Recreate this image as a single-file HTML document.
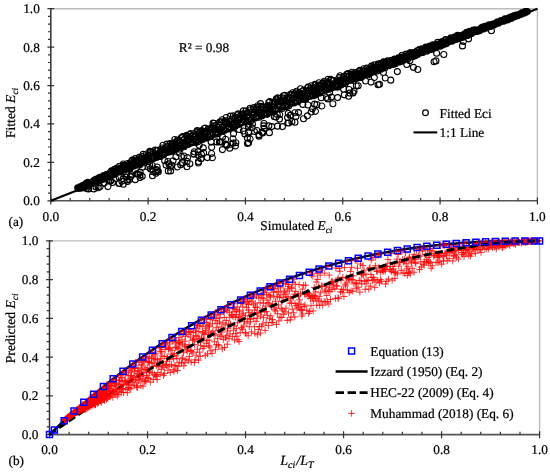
<!DOCTYPE html>
<html><head><meta charset="utf-8"><title>Figure</title>
<style>html,body{margin:0;padding:0;background:#fff;}svg{display:block;text-rendering:geometricPrecision;}</style>
</head><body>
<svg width="550" height="473" viewBox="0 0 550 473">
<rect width="550" height="473" fill="#fff"/>
<g font-family="'Liberation Serif','Times New Roman',serif" font-size="13.3" fill="#000" stroke="#000" stroke-width="0.22">
<path d="M50.8 8.7H537.4V200.8" fill="none" stroke="#bcbcbc" stroke-width="1.4"/>
<path d="M50.8 200.8H537.4" stroke="#555" stroke-width="1.6"/>
<path d="M50.8 8.1V201.4" stroke="#333" stroke-width="1.5"/>
<path d="M50.8 197.5V204.4M47.4 200.8H54.2M70.26 198V200.8M48 193.12H50.8M89.73 198V200.8M48 185.43H50.8M109.19 198V200.8M48 177.75H50.8M128.66 198V200.8M48 170.06H50.8M148.12 197.5V204.4M47.4 162.38H54.2M167.58 198V200.8M48 154.7H50.8M187.05 198V200.8M48 147.01H50.8M206.51 198V200.8M48 139.33H50.8M225.98 198V200.8M48 131.64H50.8M245.44 197.5V204.4M47.4 123.96H54.2M264.9 198V200.8M48 116.28H50.8M284.37 198V200.8M48 108.59H50.8M303.83 198V200.8M48 100.91H50.8M323.3 198V200.8M48 93.22H50.8M342.76 197.5V204.4M47.4 85.54H54.2M362.22 198V200.8M48 77.86H50.8M381.69 198V200.8M48 70.17H50.8M401.15 198V200.8M48 62.49H50.8M420.62 198V200.8M48 54.8H50.8M440.08 197.5V204.4M47.4 47.12H54.2M459.54 198V200.8M48 39.44H50.8M479.01 198V200.8M48 31.75H50.8M498.47 198V200.8M48 24.07H50.8M517.94 198V200.8M48 16.38H50.8M537.4 197.5V204.4M47.4 8.7H54.2" stroke="#333" stroke-width="1.2"/>
<text x="39.8" y="205.2" text-anchor="end">0.0</text>
<text x="50.8" y="220.6" text-anchor="middle">0.0</text>
<text x="39.8" y="166.78" text-anchor="end">0.2</text>
<text x="148.12" y="220.6" text-anchor="middle">0.2</text>
<text x="39.8" y="128.36" text-anchor="end">0.4</text>
<text x="245.44" y="220.6" text-anchor="middle">0.4</text>
<text x="39.8" y="89.94" text-anchor="end">0.6</text>
<text x="342.76" y="220.6" text-anchor="middle">0.6</text>
<text x="39.8" y="51.52" text-anchor="end">0.8</text>
<text x="440.08" y="220.6" text-anchor="middle">0.8</text>
<text x="39.8" y="13.1" text-anchor="end">1.0</text>
<text x="537.4" y="220.6" text-anchor="middle">1.0</text>
<path d="M503.23 18.77a3 3 0 1 0 6 0a3 3 0 1 0-6 0M390.71 63.71a3 3 0 1 0 6 0a3 3 0 1 0-6 0M165.66 146.28a3 3 0 1 0 6 0a3 3 0 1 0-6 0M334.44 87.16a3 3 0 1 0 6 0a3 3 0 1 0-6 0M109.39 173.89a3 3 0 1 0 6 0a3 3 0 1 0-6 0M446.97 39.19a3 3 0 1 0 6 0a3 3 0 1 0-6 0M221.92 130.35a3 3 0 1 0 6 0a3 3 0 1 0-6 0M306.31 92.84a3 3 0 1 0 6 0a3 3 0 1 0-6 0M81.26 185.65a3 3 0 1 0 6 0a3 3 0 1 0-6 0M418.84 48.83a3 3 0 1 0 6 0a3 3 0 1 0-6 0M193.79 139.87a3 3 0 1 0 6 0a3 3 0 1 0-6 0M362.58 70.44a3 3 0 1 0 6 0a3 3 0 1 0-6 0M137.52 164.37a3 3 0 1 0 6 0a3 3 0 1 0-6 0M475.1 30.17a3 3 0 1 0 6 0a3 3 0 1 0-6 0M250.05 109.74a3 3 0 1 0 6 0a3 3 0 1 0-6 0M292.25 102.12a3 3 0 1 0 6 0a3 3 0 1 0-6 0M517.3 13.92a3 3 0 1 0 6 0a3 3 0 1 0-6 0M404.77 55.22a3 3 0 1 0 6 0a3 3 0 1 0-6 0M179.72 136.6a3 3 0 1 0 6 0a3 3 0 1 0-6 0M348.51 78.89a3 3 0 1 0 6 0a3 3 0 1 0-6 0M123.46 164.02a3 3 0 1 0 6 0a3 3 0 1 0-6 0M461.04 36.99a3 3 0 1 0 6 0a3 3 0 1 0-6 0M235.98 120.32a3 3 0 1 0 6 0a3 3 0 1 0-6 0M320.38 82.9a3 3 0 1 0 6 0a3 3 0 1 0-6 0M95.33 180.94a3 3 0 1 0 6 0a3 3 0 1 0-6 0M432.9 46.02a3 3 0 1 0 6 0a3 3 0 1 0-6 0M207.85 129.94a3 3 0 1 0 6 0a3 3 0 1 0-6 0M376.64 63.54a3 3 0 1 0 6 0a3 3 0 1 0-6 0M151.59 157.19a3 3 0 1 0 6 0a3 3 0 1 0-6 0M489.17 24.27a3 3 0 1 0 6 0a3 3 0 1 0-6 0M264.12 114.35a3 3 0 1 0 6 0a3 3 0 1 0-6 0M285.21 102.34a3 3 0 1 0 6 0a3 3 0 1 0-6 0M510.27 16.15a3 3 0 1 0 6 0a3 3 0 1 0-6 0M397.74 61.58a3 3 0 1 0 6 0a3 3 0 1 0-6 0M172.69 146.21a3 3 0 1 0 6 0a3 3 0 1 0-6 0M341.48 78.58a3 3 0 1 0 6 0a3 3 0 1 0-6 0M116.42 166.22a3 3 0 1 0 6 0a3 3 0 1 0-6 0M454 38.67a3 3 0 1 0 6 0a3 3 0 1 0-6 0M228.95 119.14a3 3 0 1 0 6 0a3 3 0 1 0-6 0M313.35 94.62a3 3 0 1 0 6 0a3 3 0 1 0-6 0M88.29 182.95a3 3 0 1 0 6 0a3 3 0 1 0-6 0M425.87 47.01a3 3 0 1 0 6 0a3 3 0 1 0-6 0M200.82 137.61a3 3 0 1 0 6 0a3 3 0 1 0-6 0M369.61 69.23a3 3 0 1 0 6 0a3 3 0 1 0-6 0M144.56 156.04a3 3 0 1 0 6 0a3 3 0 1 0-6 0M482.14 26.18a3 3 0 1 0 6 0a3 3 0 1 0-6 0M257.08 113.67a3 3 0 1 0 6 0a3 3 0 1 0-6 0M299.28 91.22a3 3 0 1 0 6 0a3 3 0 1 0-6 0M524.33 11.6a3 3 0 1 0 6 0a3 3 0 1 0-6 0M411.81 54.33a3 3 0 1 0 6 0a3 3 0 1 0-6 0M186.75 134.48a3 3 0 1 0 6 0a3 3 0 1 0-6 0M355.54 77.31a3 3 0 1 0 6 0a3 3 0 1 0-6 0M130.49 163.15a3 3 0 1 0 6 0a3 3 0 1 0-6 0M468.07 32.11a3 3 0 1 0 6 0a3 3 0 1 0-6 0M243.02 110.98a3 3 0 1 0 6 0a3 3 0 1 0-6 0M327.41 87.23a3 3 0 1 0 6 0a3 3 0 1 0-6 0M102.36 175.7a3 3 0 1 0 6 0a3 3 0 1 0-6 0M439.94 44.97a3 3 0 1 0 6 0a3 3 0 1 0-6 0M214.89 129.47a3 3 0 1 0 6 0a3 3 0 1 0-6 0M383.67 62.16a3 3 0 1 0 6 0a3 3 0 1 0-6 0M158.62 154.74a3 3 0 1 0 6 0a3 3 0 1 0-6 0M496.2 22.26a3 3 0 1 0 6 0a3 3 0 1 0-6 0M271.15 103.94a3 3 0 1 0 6 0a3 3 0 1 0-6 0M281.7 95.36a3 3 0 1 0 6 0a3 3 0 1 0-6 0M506.75 18.32a3 3 0 1 0 6 0a3 3 0 1 0-6 0M394.22 58.98a3 3 0 1 0 6 0a3 3 0 1 0-6 0M169.17 151.25a3 3 0 1 0 6 0a3 3 0 1 0-6 0M337.96 81.4a3 3 0 1 0 6 0a3 3 0 1 0-6 0M112.91 169a3 3 0 1 0 6 0a3 3 0 1 0-6 0M450.49 40.25a3 3 0 1 0 6 0a3 3 0 1 0-6 0M225.43 123.7a3 3 0 1 0 6 0a3 3 0 1 0-6 0M309.83 88.68a3 3 0 1 0 6 0a3 3 0 1 0-6 0M84.78 182.41a3 3 0 1 0 6 0a3 3 0 1 0-6 0M422.36 50.3a3 3 0 1 0 6 0a3 3 0 1 0-6 0M197.3 131.35a3 3 0 1 0 6 0a3 3 0 1 0-6 0M366.09 73.87a3 3 0 1 0 6 0a3 3 0 1 0-6 0M141.04 159.52a3 3 0 1 0 6 0a3 3 0 1 0-6 0M478.62 27.67a3 3 0 1 0 6 0a3 3 0 1 0-6 0M253.57 116.71a3 3 0 1 0 6 0a3 3 0 1 0-6 0M295.76 95.66a3 3 0 1 0 6 0a3 3 0 1 0-6 0M520.82 12.83a3 3 0 1 0 6 0a3 3 0 1 0-6 0M408.29 52.95a3 3 0 1 0 6 0a3 3 0 1 0-6 0M183.24 144.53a3 3 0 1 0 6 0a3 3 0 1 0-6 0M352.03 73.81a3 3 0 1 0 6 0a3 3 0 1 0-6 0M126.97 169a3 3 0 1 0 6 0a3 3 0 1 0-6 0M464.55 34.6a3 3 0 1 0 6 0a3 3 0 1 0-6 0M239.5 114.06a3 3 0 1 0 6 0a3 3 0 1 0-6 0M323.9 89.62a3 3 0 1 0 6 0a3 3 0 1 0-6 0M98.84 178.47a3 3 0 1 0 6 0a3 3 0 1 0-6 0M436.42 44.03a3 3 0 1 0 6 0a3 3 0 1 0-6 0M211.37 123.18a3 3 0 1 0 6 0a3 3 0 1 0-6 0M380.16 66.88a3 3 0 1 0 6 0a3 3 0 1 0-6 0M155.11 150.28a3 3 0 1 0 6 0a3 3 0 1 0-6 0M492.68 24.01a3 3 0 1 0 6 0a3 3 0 1 0-6 0M267.63 108.89a3 3 0 1 0 6 0a3 3 0 1 0-6 0M288.73 94.67a3 3 0 1 0 6 0a3 3 0 1 0-6 0M513.78 15.96a3 3 0 1 0 6 0a3 3 0 1 0-6 0M401.26 57.48a3 3 0 1 0 6 0a3 3 0 1 0-6 0M176.2 141.92a3 3 0 1 0 6 0a3 3 0 1 0-6 0M344.99 73.66a3 3 0 1 0 6 0a3 3 0 1 0-6 0M119.94 169.73a3 3 0 1 0 6 0a3 3 0 1 0-6 0M457.52 35.47a3 3 0 1 0 6 0a3 3 0 1 0-6 0M232.47 126.44a3 3 0 1 0 6 0a3 3 0 1 0-6 0M316.86 89.33a3 3 0 1 0 6 0a3 3 0 1 0-6 0M91.81 179.69a3 3 0 1 0 6 0a3 3 0 1 0-6 0M429.39 48.78a3 3 0 1 0 6 0a3 3 0 1 0-6 0M204.34 132.26a3 3 0 1 0 6 0a3 3 0 1 0-6 0M373.13 67.6a3 3 0 1 0 6 0a3 3 0 1 0-6 0M148.07 151.62a3 3 0 1 0 6 0a3 3 0 1 0-6 0M485.65 26.62a3 3 0 1 0 6 0a3 3 0 1 0-6 0M260.6 106.88a3 3 0 1 0 6 0a3 3 0 1 0-6 0M302.8 99.01a3 3 0 1 0 6 0a3 3 0 1 0-6 0M77.74 187.39a3 3 0 1 0 6 0a3 3 0 1 0-6 0M415.32 50.66a3 3 0 1 0 6 0a3 3 0 1 0-6 0M190.27 142.3a3 3 0 1 0 6 0a3 3 0 1 0-6 0M359.06 73.82a3 3 0 1 0 6 0a3 3 0 1 0-6 0M134.01 160.52a3 3 0 1 0 6 0a3 3 0 1 0-6 0M471.59 29.76a3 3 0 1 0 6 0a3 3 0 1 0-6 0M246.53 117.94a3 3 0 1 0 6 0a3 3 0 1 0-6 0M330.93 80.51a3 3 0 1 0 6 0a3 3 0 1 0-6 0M105.88 176.93a3 3 0 1 0 6 0a3 3 0 1 0-6 0M443.45 42.31a3 3 0 1 0 6 0a3 3 0 1 0-6 0M218.4 121.9a3 3 0 1 0 6 0a3 3 0 1 0-6 0M387.19 65.02a3 3 0 1 0 6 0a3 3 0 1 0-6 0M162.14 150.17a3 3 0 1 0 6 0a3 3 0 1 0-6 0M499.72 20.76a3 3 0 1 0 6 0a3 3 0 1 0-6 0M274.66 97.92a3 3 0 1 0 6 0a3 3 0 1 0-6 0M279.94 104.98a3 3 0 1 0 6 0a3 3 0 1 0-6 0M504.99 18.35a3 3 0 1 0 6 0a3 3 0 1 0-6 0M392.47 63.83a3 3 0 1 0 6 0a3 3 0 1 0-6 0M167.41 148.82a3 3 0 1 0 6 0a3 3 0 1 0-6 0M336.2 77.59a3 3 0 1 0 6 0a3 3 0 1 0-6 0M111.15 174.23a3 3 0 1 0 6 0a3 3 0 1 0-6 0M448.73 39.63a3 3 0 1 0 6 0a3 3 0 1 0-6 0M223.68 123.3a3 3 0 1 0 6 0a3 3 0 1 0-6 0M308.07 85.74a3 3 0 1 0 6 0a3 3 0 1 0-6 0M83.02 185.39a3 3 0 1 0 6 0a3 3 0 1 0-6 0M420.6 49.7a3 3 0 1 0 6 0a3 3 0 1 0-6 0M195.54 141.58a3 3 0 1 0 6 0a3 3 0 1 0-6 0M364.33 72.48a3 3 0 1 0 6 0a3 3 0 1 0-6 0M139.28 156.67a3 3 0 1 0 6 0a3 3 0 1 0-6 0M476.86 30.62a3 3 0 1 0 6 0a3 3 0 1 0-6 0M251.81 113.27a3 3 0 1 0 6 0a3 3 0 1 0-6 0M294.01 94.87a3 3 0 1 0 6 0a3 3 0 1 0-6 0M519.06 12.69a3 3 0 1 0 6 0a3 3 0 1 0-6 0M406.53 56.91a3 3 0 1 0 6 0a3 3 0 1 0-6 0M181.48 139.15a3 3 0 1 0 6 0a3 3 0 1 0-6 0M350.27 80.42a3 3 0 1 0 6 0a3 3 0 1 0-6 0M125.22 166.59a3 3 0 1 0 6 0a3 3 0 1 0-6 0M462.79 33.31a3 3 0 1 0 6 0a3 3 0 1 0-6 0M237.74 122.69a3 3 0 1 0 6 0a3 3 0 1 0-6 0M322.14 86.51a3 3 0 1 0 6 0a3 3 0 1 0-6 0M97.08 178.51a3 3 0 1 0 6 0a3 3 0 1 0-6 0M434.66 42.36a3 3 0 1 0 6 0a3 3 0 1 0-6 0M209.61 132.24a3 3 0 1 0 6 0a3 3 0 1 0-6 0M378.4 64.5a3 3 0 1 0 6 0a3 3 0 1 0-6 0M153.35 157.42a3 3 0 1 0 6 0a3 3 0 1 0-6 0M490.93 24.58a3 3 0 1 0 6 0a3 3 0 1 0-6 0M265.87 102.41a3 3 0 1 0 6 0a3 3 0 1 0-6 0M286.97 102.8a3 3 0 1 0 6 0a3 3 0 1 0-6 0M512.02 15.64a3 3 0 1 0 6 0a3 3 0 1 0-6 0M399.5 57.82a3 3 0 1 0 6 0a3 3 0 1 0-6 0M174.45 139.99a3 3 0 1 0 6 0a3 3 0 1 0-6 0M343.24 81.5a3 3 0 1 0 6 0a3 3 0 1 0-6 0M118.18 167.73a3 3 0 1 0 6 0a3 3 0 1 0-6 0M455.76 38.69a3 3 0 1 0 6 0a3 3 0 1 0-6 0M230.71 123.54a3 3 0 1 0 6 0a3 3 0 1 0-6 0M315.1 85.1a3 3 0 1 0 6 0a3 3 0 1 0-6 0M90.05 183.13a3 3 0 1 0 6 0a3 3 0 1 0-6 0M427.63 48.29a3 3 0 1 0 6 0a3 3 0 1 0-6 0M202.58 131.31a3 3 0 1 0 6 0a3 3 0 1 0-6 0M371.37 64.85a3 3 0 1 0 6 0a3 3 0 1 0-6 0M146.31 158.5a3 3 0 1 0 6 0a3 3 0 1 0-6 0M483.89 26a3 3 0 1 0 6 0a3 3 0 1 0-6 0M258.84 115.95a3 3 0 1 0 6 0a3 3 0 1 0-6 0M301.04 95.51a3 3 0 1 0 6 0a3 3 0 1 0-6 0M75.99 187.23a3 3 0 1 0 6 0a3 3 0 1 0-6 0M413.56 54.87a3 3 0 1 0 6 0a3 3 0 1 0-6 0M188.51 139a3 3 0 1 0 6 0a3 3 0 1 0-6 0M357.3 72.89a3 3 0 1 0 6 0a3 3 0 1 0-6 0M132.25 158.63a3 3 0 1 0 6 0a3 3 0 1 0-6 0M469.83 32.73a3 3 0 1 0 6 0a3 3 0 1 0-6 0M244.78 112.61a3 3 0 1 0 6 0a3 3 0 1 0-6 0M329.17 88.04a3 3 0 1 0 6 0a3 3 0 1 0-6 0M104.12 175.49a3 3 0 1 0 6 0a3 3 0 1 0-6 0M441.7 40.75a3 3 0 1 0 6 0a3 3 0 1 0-6 0M216.64 130.74a3 3 0 1 0 6 0a3 3 0 1 0-6 0M385.43 63.11a3 3 0 1 0 6 0a3 3 0 1 0-6 0M160.38 149.34a3 3 0 1 0 6 0a3 3 0 1 0-6 0M497.96 20.65a3 3 0 1 0 6 0a3 3 0 1 0-6 0M272.91 108.56a3 3 0 1 0 6 0a3 3 0 1 0-6 0M283.46 98.64a3 3 0 1 0 6 0a3 3 0 1 0-6 0M508.51 18.34a3 3 0 1 0 6 0a3 3 0 1 0-6 0M395.98 60.84a3 3 0 1 0 6 0a3 3 0 1 0-6 0M170.93 142.44a3 3 0 1 0 6 0a3 3 0 1 0-6 0M339.72 83.32a3 3 0 1 0 6 0a3 3 0 1 0-6 0M114.67 170.42a3 3 0 1 0 6 0a3 3 0 1 0-6 0M452.25 37.84a3 3 0 1 0 6 0a3 3 0 1 0-6 0M227.19 116.15a3 3 0 1 0 6 0a3 3 0 1 0-6 0M311.59 92.59a3 3 0 1 0 6 0a3 3 0 1 0-6 0M86.54 182.91a3 3 0 1 0 6 0a3 3 0 1 0-6 0M424.11 51.08a3 3 0 1 0 6 0a3 3 0 1 0-6 0M199.06 135.43a3 3 0 1 0 6 0a3 3 0 1 0-6 0M367.85 66.98a3 3 0 1 0 6 0a3 3 0 1 0-6 0M142.8 160.92a3 3 0 1 0 6 0a3 3 0 1 0-6 0M480.38 28.12a3 3 0 1 0 6 0a3 3 0 1 0-6 0M255.32 110a3 3 0 1 0 6 0a3 3 0 1 0-6 0M297.52 88.82a3 3 0 1 0 6 0a3 3 0 1 0-6 0M522.57 12.34a3 3 0 1 0 6 0a3 3 0 1 0-6 0M410.05 52.59a3 3 0 1 0 6 0a3 3 0 1 0-6 0M185 144.53a3 3 0 1 0 6 0a3 3 0 1 0-6 0M353.78 75.75a3 3 0 1 0 6 0a3 3 0 1 0-6 0M128.73 160.9a3 3 0 1 0 6 0a3 3 0 1 0-6 0M466.31 33.82a3 3 0 1 0 6 0a3 3 0 1 0-6 0M241.26 116.56a3 3 0 1 0 6 0a3 3 0 1 0-6 0M325.65 84.35a3 3 0 1 0 6 0a3 3 0 1 0-6 0M100.6 175.43a3 3 0 1 0 6 0a3 3 0 1 0-6 0M438.18 45.14a3 3 0 1 0 6 0a3 3 0 1 0-6 0M213.13 125.41a3 3 0 1 0 6 0a3 3 0 1 0-6 0M381.92 67.67a3 3 0 1 0 6 0a3 3 0 1 0-6 0M156.86 153.73a3 3 0 1 0 6 0a3 3 0 1 0-6 0M494.44 21.8a3 3 0 1 0 6 0a3 3 0 1 0-6 0M269.39 110.54a3 3 0 1 0 6 0a3 3 0 1 0-6 0M290.49 98.38a3 3 0 1 0 6 0a3 3 0 1 0-6 0M515.54 14.59a3 3 0 1 0 6 0a3 3 0 1 0-6 0M403.02 54.14a3 3 0 1 0 6 0a3 3 0 1 0-6 0M177.96 145.87a3 3 0 1 0 6 0a3 3 0 1 0-6 0M346.75 75.57a3 3 0 1 0 6 0a3 3 0 1 0-6 0M121.7 170a3 3 0 1 0 6 0a3 3 0 1 0-6 0M459.28 35.96a3 3 0 1 0 6 0a3 3 0 1 0-6 0M234.23 115.02a3 3 0 1 0 6 0a3 3 0 1 0-6 0M318.62 90.92a3 3 0 1 0 6 0a3 3 0 1 0-6 0M93.57 180.28a3 3 0 1 0 6 0a3 3 0 1 0-6 0M431.15 45.4a3 3 0 1 0 6 0a3 3 0 1 0-6 0M206.09 137.25a3 3 0 1 0 6 0a3 3 0 1 0-6 0M374.88 68.94a3 3 0 1 0 6 0a3 3 0 1 0-6 0M149.83 152.34a3 3 0 1 0 6 0a3 3 0 1 0-6 0M487.41 26.42a3 3 0 1 0 6 0a3 3 0 1 0-6 0M262.36 110.1a3 3 0 1 0 6 0a3 3 0 1 0-6 0M304.55 87.71a3 3 0 1 0 6 0a3 3 0 1 0-6 0M79.5 187.19a3 3 0 1 0 6 0a3 3 0 1 0-6 0M417.08 51.54a3 3 0 1 0 6 0a3 3 0 1 0-6 0M192.03 136.87a3 3 0 1 0 6 0a3 3 0 1 0-6 0M360.82 68.71a3 3 0 1 0 6 0a3 3 0 1 0-6 0M135.77 163.64a3 3 0 1 0 6 0a3 3 0 1 0-6 0M473.34 30.27a3 3 0 1 0 6 0a3 3 0 1 0-6 0M248.29 120.74a3 3 0 1 0 6 0a3 3 0 1 0-6 0M332.69 84.01a3 3 0 1 0 6 0a3 3 0 1 0-6 0M107.63 172.21a3 3 0 1 0 6 0a3 3 0 1 0-6 0M445.21 42.36a3 3 0 1 0 6 0a3 3 0 1 0-6 0M220.16 126.32a3 3 0 1 0 6 0a3 3 0 1 0-6 0M388.95 61.78a3 3 0 1 0 6 0a3 3 0 1 0-6 0M163.9 144.11a3 3 0 1 0 6 0a3 3 0 1 0-6 0M501.48 20.86a3 3 0 1 0 6 0a3 3 0 1 0-6 0M276.42 100.92a3 3 0 1 0 6 0a3 3 0 1 0-6 0M279.06 108.56a3 3 0 1 0 6 0a3 3 0 1 0-6 0M504.11 19.65a3 3 0 1 0 6 0a3 3 0 1 0-6 0M391.59 59.12a3 3 0 1 0 6 0a3 3 0 1 0-6 0M166.53 151.98a3 3 0 1 0 6 0a3 3 0 1 0-6 0M335.32 81.83a3 3 0 1 0 6 0a3 3 0 1 0-6 0M110.27 171.53a3 3 0 1 0 6 0a3 3 0 1 0-6 0M447.85 37.82a3 3 0 1 0 6 0a3 3 0 1 0-6 0M222.8 127.39a3 3 0 1 0 6 0a3 3 0 1 0-6 0M307.19 88.68a3 3 0 1 0 6 0a3 3 0 1 0-6 0M82.14 186.23a3 3 0 1 0 6 0a3 3 0 1 0-6 0M419.72 51.02a3 3 0 1 0 6 0a3 3 0 1 0-6 0M194.67 131.88a3 3 0 1 0 6 0a3 3 0 1 0-6 0M363.46 74.02a3 3 0 1 0 6 0a3 3 0 1 0-6 0M138.4 159.94a3 3 0 1 0 6 0a3 3 0 1 0-6 0M475.98 29.78a3 3 0 1 0 6 0a3 3 0 1 0-6 0M250.93 107.61a3 3 0 1 0 6 0a3 3 0 1 0-6 0M293.13 100.51a3 3 0 1 0 6 0a3 3 0 1 0-6 0M518.18 13.35a3 3 0 1 0 6 0a3 3 0 1 0-6 0M405.65 58.45a3 3 0 1 0 6 0a3 3 0 1 0-6 0M180.6 143.54a3 3 0 1 0 6 0a3 3 0 1 0-6 0M349.39 73.79a3 3 0 1 0 6 0a3 3 0 1 0-6 0M124.34 168.85a3 3 0 1 0 6 0a3 3 0 1 0-6 0M461.92 34.91a3 3 0 1 0 6 0a3 3 0 1 0-6 0M236.86 117.49a3 3 0 1 0 6 0a3 3 0 1 0-6 0M321.26 81.2a3 3 0 1 0 6 0a3 3 0 1 0-6 0M96.21 180.03a3 3 0 1 0 6 0a3 3 0 1 0-6 0M433.78 44.39a3 3 0 1 0 6 0a3 3 0 1 0-6 0M208.73 135.95a3 3 0 1 0 6 0a3 3 0 1 0-6 0M377.52 66.99a3 3 0 1 0 6 0a3 3 0 1 0-6 0M152.47 150.22a3 3 0 1 0 6 0a3 3 0 1 0-6 0M490.05 24.81a3 3 0 1 0 6 0a3 3 0 1 0-6 0M264.99 107.78a3 3 0 1 0 6 0a3 3 0 1 0-6 0M286.09 98.19a3 3 0 1 0 6 0a3 3 0 1 0-6 0M511.15 15.5a3 3 0 1 0 6 0a3 3 0 1 0-6 0M398.62 59.49a3 3 0 1 0 6 0a3 3 0 1 0-6 0M173.57 141.67a3 3 0 1 0 6 0a3 3 0 1 0-6 0M342.36 83.3a3 3 0 1 0 6 0a3 3 0 1 0-6 0M117.3 170.08a3 3 0 1 0 6 0a3 3 0 1 0-6 0M454.88 35.71a3 3 0 1 0 6 0a3 3 0 1 0-6 0M229.83 126.12a3 3 0 1 0 6 0a3 3 0 1 0-6 0M314.22 89.02a3 3 0 1 0 6 0a3 3 0 1 0-6 0M89.17 182.23a3 3 0 1 0 6 0a3 3 0 1 0-6 0M426.75 45.95a3 3 0 1 0 6 0a3 3 0 1 0-6 0M201.7 136.22a3 3 0 1 0 6 0a3 3 0 1 0-6 0M370.49 67.18a3 3 0 1 0 6 0a3 3 0 1 0-6 0M145.44 161.52a3 3 0 1 0 6 0a3 3 0 1 0-6 0M483.01 27.25a3 3 0 1 0 6 0a3 3 0 1 0-6 0M257.96 106.42a3 3 0 1 0 6 0a3 3 0 1 0-6 0M300.16 99.21a3 3 0 1 0 6 0a3 3 0 1 0-6 0M75.11 187.93a3 3 0 1 0 6 0a3 3 0 1 0-6 0M412.69 52.34a3 3 0 1 0 6 0a3 3 0 1 0-6 0M187.63 133.55a3 3 0 1 0 6 0a3 3 0 1 0-6 0M356.42 75.58a3 3 0 1 0 6 0a3 3 0 1 0-6 0M131.37 160.99a3 3 0 1 0 6 0a3 3 0 1 0-6 0M468.95 33.59a3 3 0 1 0 6 0a3 3 0 1 0-6 0M243.9 117.28a3 3 0 1 0 6 0a3 3 0 1 0-6 0M328.29 79.97a3 3 0 1 0 6 0a3 3 0 1 0-6 0M103.24 177.66a3 3 0 1 0 6 0a3 3 0 1 0-6 0M440.82 42.76a3 3 0 1 0 6 0a3 3 0 1 0-6 0M215.76 125.22a3 3 0 1 0 6 0a3 3 0 1 0-6 0M384.55 60.73a3 3 0 1 0 6 0a3 3 0 1 0-6 0M159.5 153.05a3 3 0 1 0 6 0a3 3 0 1 0-6 0M497.08 21.31a3 3 0 1 0 6 0a3 3 0 1 0-6 0M272.03 110.22a3 3 0 1 0 6 0a3 3 0 1 0-6 0M282.58 102.52a3 3 0 1 0 6 0a3 3 0 1 0-6 0M507.63 16.97a3 3 0 1 0 6 0a3 3 0 1 0-6 0M395.1 61.83a3 3 0 1 0 6 0a3 3 0 1 0-6 0M170.05 146.32a3 3 0 1 0 6 0a3 3 0 1 0-6 0M338.84 79.86a3 3 0 1 0 6 0a3 3 0 1 0-6 0M113.79 168.03a3 3 0 1 0 6 0a3 3 0 1 0-6 0M451.37 39.81a3 3 0 1 0 6 0a3 3 0 1 0-6 0M226.31 120.99a3 3 0 1 0 6 0a3 3 0 1 0-6 0M310.71 95.75a3 3 0 1 0 6 0a3 3 0 1 0-6 0M85.66 183.91a3 3 0 1 0 6 0a3 3 0 1 0-6 0M423.23 47.63a3 3 0 1 0 6 0a3 3 0 1 0-6 0M198.18 139.72a3 3 0 1 0 6 0a3 3 0 1 0-6 0M366.97 70.88a3 3 0 1 0 6 0a3 3 0 1 0-6 0M141.92 157.81a3 3 0 1 0 6 0a3 3 0 1 0-6 0M479.5 27.11a3 3 0 1 0 6 0a3 3 0 1 0-6 0M254.45 115.47a3 3 0 1 0 6 0a3 3 0 1 0-6 0M296.64 93.4a3 3 0 1 0 6 0a3 3 0 1 0-6 0M521.7 12.93a3 3 0 1 0 6 0a3 3 0 1 0-6 0M409.17 55.07a3 3 0 1 0 6 0a3 3 0 1 0-6 0M184.12 136.32a3 3 0 1 0 6 0a3 3 0 1 0-6 0M352.91 78.57a3 3 0 1 0 6 0a3 3 0 1 0-6 0M127.85 164.89a3 3 0 1 0 6 0a3 3 0 1 0-6 0M465.43 32.7a3 3 0 1 0 6 0a3 3 0 1 0-6 0M240.38 110.85a3 3 0 1 0 6 0a3 3 0 1 0-6 0M324.77 87.47a3 3 0 1 0 6 0a3 3 0 1 0-6 0M99.72 176.74a3 3 0 1 0 6 0a3 3 0 1 0-6 0M437.3 46.29a3 3 0 1 0 6 0a3 3 0 1 0-6 0M212.25 129.88a3 3 0 1 0 6 0a3 3 0 1 0-6 0M381.04 62.75a3 3 0 1 0 6 0a3 3 0 1 0-6 0M155.98 155.92a3 3 0 1 0 6 0a3 3 0 1 0-6 0M493.56 22.66a3 3 0 1 0 6 0a3 3 0 1 0-6 0M268.51 105.6a3 3 0 1 0 6 0a3 3 0 1 0-6 0M289.61 92.81a3 3 0 1 0 6 0a3 3 0 1 0-6 0M514.66 15.71a3 3 0 1 0 6 0a3 3 0 1 0-6 0M402.14 55.95a3 3 0 1 0 6 0a3 3 0 1 0-6 0M177.08 149.13a3 3 0 1 0 6 0a3 3 0 1 0-6 0M345.87 78.98a3 3 0 1 0 6 0a3 3 0 1 0-6 0M120.82 165.19a3 3 0 1 0 6 0a3 3 0 1 0-6 0M458.4 37.59a3 3 0 1 0 6 0a3 3 0 1 0-6 0M233.35 120.84a3 3 0 1 0 6 0a3 3 0 1 0-6 0M317.74 86.27a3 3 0 1 0 6 0a3 3 0 1 0-6 0M92.69 179.22a3 3 0 1 0 6 0a3 3 0 1 0-6 0M430.27 48.15a3 3 0 1 0 6 0a3 3 0 1 0-6 0M205.22 128.79a3 3 0 1 0 6 0a3 3 0 1 0-6 0M374 71.1a3 3 0 1 0 6 0a3 3 0 1 0-6 0M148.95 156.83a3 3 0 1 0 6 0a3 3 0 1 0-6 0M486.53 25.24a3 3 0 1 0 6 0a3 3 0 1 0-6 0M261.48 114.12a3 3 0 1 0 6 0a3 3 0 1 0-6 0M303.68 93.41a3 3 0 1 0 6 0a3 3 0 1 0-6 0M78.62 186.43a3 3 0 1 0 6 0a3 3 0 1 0-6 0M416.2 49.53a3 3 0 1 0 6 0a3 3 0 1 0-6 0M191.15 139.73a3 3 0 1 0 6 0a3 3 0 1 0-6 0M359.94 70.69a3 3 0 1 0 6 0a3 3 0 1 0-6 0M134.89 164.95a3 3 0 1 0 6 0a3 3 0 1 0-6 0M472.46 31.5a3 3 0 1 0 6 0a3 3 0 1 0-6 0M247.41 109.78a3 3 0 1 0 6 0a3 3 0 1 0-6 0M331.81 86.39a3 3 0 1 0 6 0a3 3 0 1 0-6 0M106.75 174.18a3 3 0 1 0 6 0a3 3 0 1 0-6 0M444.33 41.38a3 3 0 1 0 6 0a3 3 0 1 0-6 0M219.28 119.73a3 3 0 1 0 6 0a3 3 0 1 0-6 0M388.07 64.23a3 3 0 1 0 6 0a3 3 0 1 0-6 0M163.02 147.45a3 3 0 1 0 6 0a3 3 0 1 0-6 0M500.6 21.22a3 3 0 1 0 6 0a3 3 0 1 0-6 0M275.54 105.43a3 3 0 1 0 6 0a3 3 0 1 0-6 0M280.82 98.08a3 3 0 1 0 6 0a3 3 0 1 0-6 0M505.87 18.7a3 3 0 1 0 6 0a3 3 0 1 0-6 0M393.34 60.94a3 3 0 1 0 6 0a3 3 0 1 0-6 0M168.29 145.78a3 3 0 1 0 6 0a3 3 0 1 0-6 0M337.08 75.77a3 3 0 1 0 6 0a3 3 0 1 0-6 0M112.03 173.1a3 3 0 1 0 6 0a3 3 0 1 0-6 0M449.61 38.28a3 3 0 1 0 6 0a3 3 0 1 0-6 0M224.56 129.32a3 3 0 1 0 6 0a3 3 0 1 0-6 0M308.95 91.99a3 3 0 1 0 6 0a3 3 0 1 0-6 0M83.9 183.5a3 3 0 1 0 6 0a3 3 0 1 0-6 0M421.48 51.44a3 3 0 1 0 6 0a3 3 0 1 0-6 0M196.42 135.14a3 3 0 1 0 6 0a3 3 0 1 0-6 0M365.21 69.48a3 3 0 1 0 6 0a3 3 0 1 0-6 0M140.16 154.35a3 3 0 1 0 6 0a3 3 0 1 0-6 0M477.74 29.66a3 3 0 1 0 6 0a3 3 0 1 0-6 0M252.69 109.41a3 3 0 1 0 6 0a3 3 0 1 0-6 0M294.88 101.66a3 3 0 1 0 6 0a3 3 0 1 0-6 0M519.94 13.41a3 3 0 1 0 6 0a3 3 0 1 0-6 0M407.41 52.84a3 3 0 1 0 6 0a3 3 0 1 0-6 0M182.36 144.85a3 3 0 1 0 6 0a3 3 0 1 0-6 0M351.15 75.77a3 3 0 1 0 6 0a3 3 0 1 0-6 0M126.1 165.04a3 3 0 1 0 6 0a3 3 0 1 0-6 0M463.67 32.35a3 3 0 1 0 6 0a3 3 0 1 0-6 0M238.62 121.61a3 3 0 1 0 6 0a3 3 0 1 0-6 0M323.02 83.84a3 3 0 1 0 6 0a3 3 0 1 0-6 0M97.96 180.34a3 3 0 1 0 6 0a3 3 0 1 0-6 0M435.54 45.71a3 3 0 1 0 6 0a3 3 0 1 0-6 0M210.49 125.8a3 3 0 1 0 6 0a3 3 0 1 0-6 0M379.28 68.47a3 3 0 1 0 6 0a3 3 0 1 0-6 0M154.23 153.91a3 3 0 1 0 6 0a3 3 0 1 0-6 0M491.81 23.55a3 3 0 1 0 6 0a3 3 0 1 0-6 0M266.75 101.5a3 3 0 1 0 6 0a3 3 0 1 0-6 0M287.85 101.8a3 3 0 1 0 6 0a3 3 0 1 0-6 0M512.9 14.95a3 3 0 1 0 6 0a3 3 0 1 0-6 0M400.38 60.55a3 3 0 1 0 6 0a3 3 0 1 0-6 0M175.33 145.85a3 3 0 1 0 6 0a3 3 0 1 0-6 0M344.11 74.79a3 3 0 1 0 6 0a3 3 0 1 0-6 0M119.06 171.02a3 3 0 1 0 6 0a3 3 0 1 0-6 0M456.64 36.78a3 3 0 1 0 6 0a3 3 0 1 0-6 0M231.59 119.48a3 3 0 1 0 6 0a3 3 0 1 0-6 0M315.98 82.73a3 3 0 1 0 6 0a3 3 0 1 0-6 0M90.93 182.08a3 3 0 1 0 6 0a3 3 0 1 0-6 0M428.51 46.27a3 3 0 1 0 6 0a3 3 0 1 0-6 0M203.46 137.91a3 3 0 1 0 6 0a3 3 0 1 0-6 0M372.25 69.03a3 3 0 1 0 6 0a3 3 0 1 0-6 0M147.19 152.77a3 3 0 1 0 6 0a3 3 0 1 0-6 0M484.77 27.3a3 3 0 1 0 6 0a3 3 0 1 0-6 0M259.72 110.05a3 3 0 1 0 6 0a3 3 0 1 0-6 0M301.92 92.91a3 3 0 1 0 6 0a3 3 0 1 0-6 0M76.86 186.75a3 3 0 1 0 6 0a3 3 0 1 0-6 0M414.44 54.48a3 3 0 1 0 6 0a3 3 0 1 0-6 0M189.39 136.16a3 3 0 1 0 6 0a3 3 0 1 0-6 0M358.18 77.53a3 3 0 1 0 6 0a3 3 0 1 0-6 0M133.13 163.42a3 3 0 1 0 6 0a3 3 0 1 0-6 0M470.71 30.69a3 3 0 1 0 6 0a3 3 0 1 0-6 0M245.65 120.18a3 3 0 1 0 6 0a3 3 0 1 0-6 0M330.05 83.76a3 3 0 1 0 6 0a3 3 0 1 0-6 0M105 174.24a3 3 0 1 0 6 0a3 3 0 1 0-6 0M442.58 39.64a3 3 0 1 0 6 0a3 3 0 1 0-6 0M217.52 129.7a3 3 0 1 0 6 0a3 3 0 1 0-6 0M386.31 62a3 3 0 1 0 6 0a3 3 0 1 0-6 0M161.26 154.31a3 3 0 1 0 6 0a3 3 0 1 0-6 0M498.84 21.53a3 3 0 1 0 6 0a3 3 0 1 0-6 0M273.79 99.86a3 3 0 1 0 6 0a3 3 0 1 0-6 0M284.34 104.63a3 3 0 1 0 6 0a3 3 0 1 0-6 0M509.39 17.37a3 3 0 1 0 6 0a3 3 0 1 0-6 0M396.86 58.17a3 3 0 1 0 6 0a3 3 0 1 0-6 0M171.81 139.56a3 3 0 1 0 6 0a3 3 0 1 0-6 0M340.6 81.45a3 3 0 1 0 6 0a3 3 0 1 0-6 0M115.55 167.96a3 3 0 1 0 6 0a3 3 0 1 0-6 0M453.12 39.4a3 3 0 1 0 6 0a3 3 0 1 0-6 0M228.07 123.68a3 3 0 1 0 6 0a3 3 0 1 0-6 0M312.47 85.05a3 3 0 1 0 6 0a3 3 0 1 0-6 0M87.41 183.8a3 3 0 1 0 6 0a3 3 0 1 0-6 0M424.99 48.35a3 3 0 1 0 6 0a3 3 0 1 0-6 0M199.94 132.58a3 3 0 1 0 6 0a3 3 0 1 0-6 0M368.73 65.92a3 3 0 1 0 6 0a3 3 0 1 0-6 0M143.68 159.9a3 3 0 1 0 6 0a3 3 0 1 0-6 0M481.26 26.96a3 3 0 1 0 6 0a3 3 0 1 0-6 0M256.2 117.21a3 3 0 1 0 6 0a3 3 0 1 0-6 0M298.4 96.7a3 3 0 1 0 6 0a3 3 0 1 0-6 0M523.45 11.45a3 3 0 1 0 6 0a3 3 0 1 0-6 0M410.93 56.33a3 3 0 1 0 6 0a3 3 0 1 0-6 0M185.87 140.41a3 3 0 1 0 6 0a3 3 0 1 0-6 0M354.66 73.64a3 3 0 1 0 6 0a3 3 0 1 0-6 0M129.61 159.92a3 3 0 1 0 6 0a3 3 0 1 0-6 0M467.19 33.3a3 3 0 1 0 6 0a3 3 0 1 0-6 0M242.14 113.54a3 3 0 1 0 6 0a3 3 0 1 0-6 0M326.53 89.22a3 3 0 1 0 6 0a3 3 0 1 0-6 0M101.48 177.02a3 3 0 1 0 6 0a3 3 0 1 0-6 0M439.06 41.62a3 3 0 1 0 6 0a3 3 0 1 0-6 0M214.01 132.3a3 3 0 1 0 6 0a3 3 0 1 0-6 0M382.8 64.91a3 3 0 1 0 6 0a3 3 0 1 0-6 0M157.74 149.63a3 3 0 1 0 6 0a3 3 0 1 0-6 0M495.32 23.13a3 3 0 1 0 6 0a3 3 0 1 0-6 0M270.27 108.25a3 3 0 1 0 6 0a3 3 0 1 0-6 0M291.37 94.17a3 3 0 1 0 6 0a3 3 0 1 0-6 0M516.42 14.74a3 3 0 1 0 6 0a3 3 0 1 0-6 0M403.89 57.38a3 3 0 1 0 6 0a3 3 0 1 0-6 0M178.84 137.83a3 3 0 1 0 6 0a3 3 0 1 0-6 0M347.63 80.02a3 3 0 1 0 6 0a3 3 0 1 0-6 0M122.58 166.7a3 3 0 1 0 6 0a3 3 0 1 0-6 0M460.16 35.33a3 3 0 1 0 6 0a3 3 0 1 0-6 0M235.1 113.87a3 3 0 1 0 6 0a3 3 0 1 0-6 0M319.5 90.69a3 3 0 1 0 6 0a3 3 0 1 0-6 0M94.45 179.09a3 3 0 1 0 6 0a3 3 0 1 0-6 0M432.03 47.92a3 3 0 1 0 6 0a3 3 0 1 0-6 0M206.97 133.21a3 3 0 1 0 6 0a3 3 0 1 0-6 0M375.76 65.11a3 3 0 1 0 6 0a3 3 0 1 0-6 0M150.71 158.43a3 3 0 1 0 6 0a3 3 0 1 0-6 0M488.29 25.05a3 3 0 1 0 6 0a3 3 0 1 0-6 0M263.24 107.23a3 3 0 1 0 6 0a3 3 0 1 0-6 0M305.43 86.77a3 3 0 1 0 6 0a3 3 0 1 0-6 0M80.38 186.42a3 3 0 1 0 6 0a3 3 0 1 0-6 0M417.96 50.65a3 3 0 1 0 6 0a3 3 0 1 0-6 0M192.91 142.6a3 3 0 1 0 6 0a3 3 0 1 0-6 0M361.7 73.44a3 3 0 1 0 6 0a3 3 0 1 0-6 0M136.64 157.48a3 3 0 1 0 6 0a3 3 0 1 0-6 0M474.22 31.47a3 3 0 1 0 6 0a3 3 0 1 0-6 0M249.17 114.37a3 3 0 1 0 6 0a3 3 0 1 0-6 0M333.57 81.21a3 3 0 1 0 6 0a3 3 0 1 0-6 0M108.51 170.89a3 3 0 1 0 6 0a3 3 0 1 0-6 0M446.09 41.77a3 3 0 1 0 6 0a3 3 0 1 0-6 0M221.04 121.59a3 3 0 1 0 6 0a3 3 0 1 0-6 0M389.83 64.43a3 3 0 1 0 6 0a3 3 0 1 0-6 0M164.78 149.54a3 3 0 1 0 6 0a3 3 0 1 0-6 0M502.35 19.19a3 3 0 1 0 6 0a3 3 0 1 0-6 0M277.3 107.28a3 3 0 1 0 6 0a3 3 0 1 0-6 0M278.62 102.54a3 3 0 1 0 6 0a3 3 0 1 0-6 0M503.67 19.09a3 3 0 1 0 6 0a3 3 0 1 0-6 0M391.15 59.24a3 3 0 1 0 6 0a3 3 0 1 0-6 0M166.09 150.68a3 3 0 1 0 6 0a3 3 0 1 0-6 0M334.88 80.06a3 3 0 1 0 6 0a3 3 0 1 0-6 0M109.83 175.05a3 3 0 1 0 6 0a3 3 0 1 0-6 0M447.41 40.51a3 3 0 1 0 6 0a3 3 0 1 0-6 0M222.36 120.82a3 3 0 1 0 6 0a3 3 0 1 0-6 0M306.75 96.5a3 3 0 1 0 6 0a3 3 0 1 0-6 0M81.7 185.21a3 3 0 1 0 6 0a3 3 0 1 0-6 0M419.28 49.99a3 3 0 1 0 6 0a3 3 0 1 0-6 0M194.23 130.62a3 3 0 1 0 6 0a3 3 0 1 0-6 0M363.02 73.74a3 3 0 1 0 6 0a3 3 0 1 0-6 0M137.96 158.26a3 3 0 1 0 6 0a3 3 0 1 0-6 0M475.54 30.67a3 3 0 1 0 6 0a3 3 0 1 0-6 0M250.49 115.48a3 3 0 1 0 6 0a3 3 0 1 0-6 0M292.69 92.89a3 3 0 1 0 6 0a3 3 0 1 0-6 0M517.74 14.57a3 3 0 1 0 6 0a3 3 0 1 0-6 0M405.21 56.19a3 3 0 1 0 6 0a3 3 0 1 0-6 0M180.16 140.11a3 3 0 1 0 6 0a3 3 0 1 0-6 0M348.95 72.3a3 3 0 1 0 6 0a3 3 0 1 0-6 0M123.9 167.46a3 3 0 1 0 6 0a3 3 0 1 0-6 0M461.48 33.89a3 3 0 1 0 6 0a3 3 0 1 0-6 0M236.42 124.23a3 3 0 1 0 6 0a3 3 0 1 0-6 0M320.82 87.58a3 3 0 1 0 6 0a3 3 0 1 0-6 0M95.77 178.14a3 3 0 1 0 6 0a3 3 0 1 0-6 0M433.34 46.67a3 3 0 1 0 6 0a3 3 0 1 0-6 0M208.29 130.07a3 3 0 1 0 6 0a3 3 0 1 0-6 0M377.08 66.44a3 3 0 1 0 6 0a3 3 0 1 0-6 0M152.03 150.01a3 3 0 1 0 6 0a3 3 0 1 0-6 0M489.61 25.11a3 3 0 1 0 6 0a3 3 0 1 0-6 0M264.56 105.61a3 3 0 1 0 6 0a3 3 0 1 0-6 0M285.65 105.97a3 3 0 1 0 6 0a3 3 0 1 0-6 0M510.71 17.02a3 3 0 1 0 6 0a3 3 0 1 0-6 0M398.18 57.09a3 3 0 1 0 6 0a3 3 0 1 0-6 0M173.13 149.33a3 3 0 1 0 6 0a3 3 0 1 0-6 0M341.92 79.27a3 3 0 1 0 6 0a3 3 0 1 0-6 0M116.86 168.93a3 3 0 1 0 6 0a3 3 0 1 0-6 0M454.44 35.23a3 3 0 1 0 6 0a3 3 0 1 0-6 0M229.39 124.54a3 3 0 1 0 6 0a3 3 0 1 0-6 0M313.79 86.77a3 3 0 1 0 6 0a3 3 0 1 0-6 0M88.73 183.33a3 3 0 1 0 6 0a3 3 0 1 0-6 0M426.31 48.66a3 3 0 1 0 6 0a3 3 0 1 0-6 0M201.26 128.54a3 3 0 1 0 6 0a3 3 0 1 0-6 0M370.05 71.79a3 3 0 1 0 6 0a3 3 0 1 0-6 0M145 157.08a3 3 0 1 0 6 0a3 3 0 1 0-6 0M482.57 26.97a3 3 0 1 0 6 0a3 3 0 1 0-6 0M257.52 103.63a3 3 0 1 0 6 0a3 3 0 1 0-6 0M299.72 96.82a3 3 0 1 0 6 0a3 3 0 1 0-6 0M74.67 187.84a3 3 0 1 0 6 0a3 3 0 1 0-6 0M412.25 55.72a3 3 0 1 0 6 0a3 3 0 1 0-6 0M187.19 140.29a3 3 0 1 0 6 0a3 3 0 1 0-6 0M355.98 71.08a3 3 0 1 0 6 0a3 3 0 1 0-6 0M130.93 165.91a3 3 0 1 0 6 0a3 3 0 1 0-6 0M468.51 32.01a3 3 0 1 0 6 0a3 3 0 1 0-6 0M243.46 115.74a3 3 0 1 0 6 0a3 3 0 1 0-6 0M327.85 79.39a3 3 0 1 0 6 0a3 3 0 1 0-6 0M102.8 177.53a3 3 0 1 0 6 0a3 3 0 1 0-6 0M440.38 42.29a3 3 0 1 0 6 0a3 3 0 1 0-6 0M215.32 133.76a3 3 0 1 0 6 0a3 3 0 1 0-6 0M384.11 65.45a3 3 0 1 0 6 0a3 3 0 1 0-6 0M159.06 148.04a3 3 0 1 0 6 0a3 3 0 1 0-6 0M496.64 22.25a3 3 0 1 0 6 0a3 3 0 1 0-6 0M271.59 105.86a3 3 0 1 0 6 0a3 3 0 1 0-6 0M282.14 99.86a3 3 0 1 0 6 0a3 3 0 1 0-6 0M507.19 16.97a3 3 0 1 0 6 0a3 3 0 1 0-6 0M394.66 61.3a3 3 0 1 0 6 0a3 3 0 1 0-6 0M169.61 143.81a3 3 0 1 0 6 0a3 3 0 1 0-6 0M338.4 84.88a3 3 0 1 0 6 0a3 3 0 1 0-6 0M113.35 171.7a3 3 0 1 0 6 0a3 3 0 1 0-6 0M450.93 37.73a3 3 0 1 0 6 0a3 3 0 1 0-6 0M225.87 127.7a3 3 0 1 0 6 0a3 3 0 1 0-6 0M310.27 90.82a3 3 0 1 0 6 0a3 3 0 1 0-6 0M85.22 183.23a3 3 0 1 0 6 0a3 3 0 1 0-6 0M422.8 47.05a3 3 0 1 0 6 0a3 3 0 1 0-6 0M197.74 137.56a3 3 0 1 0 6 0a3 3 0 1 0-6 0M366.53 68.75a3 3 0 1 0 6 0a3 3 0 1 0-6 0M141.48 162.05a3 3 0 1 0 6 0a3 3 0 1 0-6 0M479.06 29.12a3 3 0 1 0 6 0a3 3 0 1 0-6 0M254.01 107.31a3 3 0 1 0 6 0a3 3 0 1 0-6 0M296.2 99.96a3 3 0 1 0 6 0a3 3 0 1 0-6 0M521.26 12.61a3 3 0 1 0 6 0a3 3 0 1 0-6 0M408.73 54.22a3 3 0 1 0 6 0a3 3 0 1 0-6 0M183.68 135.25a3 3 0 1 0 6 0a3 3 0 1 0-6 0M352.47 77.99a3 3 0 1 0 6 0a3 3 0 1 0-6 0M127.41 162.96a3 3 0 1 0 6 0a3 3 0 1 0-6 0M464.99 35.4a3 3 0 1 0 6 0a3 3 0 1 0-6 0M239.94 119.76a3 3 0 1 0 6 0a3 3 0 1 0-6 0M324.33 82.17a3 3 0 1 0 6 0a3 3 0 1 0-6 0M99.28 179.48a3 3 0 1 0 6 0a3 3 0 1 0-6 0M436.86 44.71a3 3 0 1 0 6 0a3 3 0 1 0-6 0M211.81 127.75a3 3 0 1 0 6 0a3 3 0 1 0-6 0M380.6 61.86a3 3 0 1 0 6 0a3 3 0 1 0-6 0M155.55 154.89a3 3 0 1 0 6 0a3 3 0 1 0-6 0M493.12 22.97a3 3 0 1 0 6 0a3 3 0 1 0-6 0M268.07 112.12a3 3 0 1 0 6 0a3 3 0 1 0-6 0M289.17 99.75a3 3 0 1 0 6 0a3 3 0 1 0-6 0M514.22 14.68a3 3 0 1 0 6 0a3 3 0 1 0-6 0M401.7 59.73a3 3 0 1 0 6 0a3 3 0 1 0-6 0M176.64 143.94a3 3 0 1 0 6 0a3 3 0 1 0-6 0M345.43 76.85a3 3 0 1 0 6 0a3 3 0 1 0-6 0M120.38 163.95a3 3 0 1 0 6 0a3 3 0 1 0-6 0M457.96 37.24a3 3 0 1 0 6 0a3 3 0 1 0-6 0M232.91 117.04a3 3 0 1 0 6 0a3 3 0 1 0-6 0M317.3 92.9a3 3 0 1 0 6 0a3 3 0 1 0-6 0M92.25 181.05a3 3 0 1 0 6 0a3 3 0 1 0-6 0M429.83 44.85a3 3 0 1 0 6 0a3 3 0 1 0-6 0M204.78 135.54a3 3 0 1 0 6 0a3 3 0 1 0-6 0M373.56 67.71a3 3 0 1 0 6 0a3 3 0 1 0-6 0M148.51 154.75a3 3 0 1 0 6 0a3 3 0 1 0-6 0M486.09 24.9a3 3 0 1 0 6 0a3 3 0 1 0-6 0M261.04 112.94a3 3 0 1 0 6 0a3 3 0 1 0-6 0M303.24 90.89a3 3 0 1 0 6 0a3 3 0 1 0-6 0M78.18 188.29a3 3 0 1 0 6 0a3 3 0 1 0-6 0M415.76 53.14a3 3 0 1 0 6 0a3 3 0 1 0-6 0M190.71 133.49a3 3 0 1 0 6 0a3 3 0 1 0-6 0M359.5 76.22a3 3 0 1 0 6 0a3 3 0 1 0-6 0M134.45 161.85a3 3 0 1 0 6 0a3 3 0 1 0-6 0M472.03 30.71a3 3 0 1 0 6 0a3 3 0 1 0-6 0M246.97 108.25a3 3 0 1 0 6 0a3 3 0 1 0-6 0M331.37 85.5a3 3 0 1 0 6 0a3 3 0 1 0-6 0M106.32 173.27a3 3 0 1 0 6 0a3 3 0 1 0-6 0M443.89 43.58a3 3 0 1 0 6 0a3 3 0 1 0-6 0M218.84 127.54a3 3 0 1 0 6 0a3 3 0 1 0-6 0M387.63 60.64a3 3 0 1 0 6 0a3 3 0 1 0-6 0M162.58 152.65a3 3 0 1 0 6 0a3 3 0 1 0-6 0M500.16 20.23a3 3 0 1 0 6 0a3 3 0 1 0-6 0M275.1 101.68a3 3 0 1 0 6 0a3 3 0 1 0-6 0M280.38 95.7a3 3 0 1 0 6 0a3 3 0 1 0-6 0M505.43 19.2a3 3 0 1 0 6 0a3 3 0 1 0-6 0M392.91 58.98a3 3 0 1 0 6 0a3 3 0 1 0-6 0M167.85 151.31a3 3 0 1 0 6 0a3 3 0 1 0-6 0M336.64 81.81a3 3 0 1 0 6 0a3 3 0 1 0-6 0M111.59 169.32a3 3 0 1 0 6 0a3 3 0 1 0-6 0M449.17 41.13a3 3 0 1 0 6 0a3 3 0 1 0-6 0M224.12 123.33a3 3 0 1 0 6 0a3 3 0 1 0-6 0M308.51 90.12a3 3 0 1 0 6 0a3 3 0 1 0-6 0M83.46 183.15a3 3 0 1 0 6 0a3 3 0 1 0-6 0M421.04 51.34a3 3 0 1 0 6 0a3 3 0 1 0-6 0M195.98 132.96a3 3 0 1 0 6 0a3 3 0 1 0-6 0M364.77 74.99a3 3 0 1 0 6 0a3 3 0 1 0-6 0M139.72 161.12a3 3 0 1 0 6 0a3 3 0 1 0-6 0M477.3 28.81a3 3 0 1 0 6 0a3 3 0 1 0-6 0M252.25 117.9a3 3 0 1 0 6 0a3 3 0 1 0-6 0M294.44 97.12a3 3 0 1 0 6 0a3 3 0 1 0-6 0M519.5 12.65a3 3 0 1 0 6 0a3 3 0 1 0-6 0M406.97 52.68a3 3 0 1 0 6 0a3 3 0 1 0-6 0M181.92 144.09a3 3 0 1 0 6 0a3 3 0 1 0-6 0M350.71 73.85a3 3 0 1 0 6 0a3 3 0 1 0-6 0M125.66 168.98a3 3 0 1 0 6 0a3 3 0 1 0-6 0M463.23 34.69a3 3 0 1 0 6 0a3 3 0 1 0-6 0M238.18 114.21a3 3 0 1 0 6 0a3 3 0 1 0-6 0M322.58 89.76a3 3 0 1 0 6 0a3 3 0 1 0-6 0M97.52 178.79a3 3 0 1 0 6 0a3 3 0 1 0-6 0M435.1 43.95a3 3 0 1 0 6 0a3 3 0 1 0-6 0M210.05 123.05a3 3 0 1 0 6 0a3 3 0 1 0-6 0M378.84 67.54a3 3 0 1 0 6 0a3 3 0 1 0-6 0M153.79 150.93a3 3 0 1 0 6 0a3 3 0 1 0-6 0M491.37 24.94a3 3 0 1 0 6 0a3 3 0 1 0-6 0M266.31 108.54a3 3 0 1 0 6 0a3 3 0 1 0-6 0M287.41 94.34a3 3 0 1 0 6 0a3 3 0 1 0-6 0M512.46 16.61a3 3 0 1 0 6 0a3 3 0 1 0-6 0M399.94 58.37a3 3 0 1 0 6 0a3 3 0 1 0-6 0M174.89 143.48a3 3 0 1 0 6 0a3 3 0 1 0-6 0M343.68 74.32a3 3 0 1 0 6 0a3 3 0 1 0-6 0M118.62 170.53a3 3 0 1 0 6 0a3 3 0 1 0-6 0M456.2 36.18a3 3 0 1 0 6 0a3 3 0 1 0-6 0M231.15 127.28a3 3 0 1 0 6 0a3 3 0 1 0-6 0M315.54 90.84a3 3 0 1 0 6 0a3 3 0 1 0-6 0M90.49 180.71a3 3 0 1 0 6 0a3 3 0 1 0-6 0M428.07 49.38a3 3 0 1 0 6 0a3 3 0 1 0-6 0M203.02 132.77a3 3 0 1 0 6 0a3 3 0 1 0-6 0M371.81 67.54a3 3 0 1 0 6 0a3 3 0 1 0-6 0M146.75 151.33a3 3 0 1 0 6 0a3 3 0 1 0-6 0M484.33 27.11a3 3 0 1 0 6 0a3 3 0 1 0-6 0M259.28 107.35a3 3 0 1 0 6 0a3 3 0 1 0-6 0M301.48 99.44a3 3 0 1 0 6 0a3 3 0 1 0-6 0M76.43 187.49a3 3 0 1 0 6 0a3 3 0 1 0-6 0M414 50.81a3 3 0 1 0 6 0a3 3 0 1 0-6 0M188.95 142.64a3 3 0 1 0 6 0a3 3 0 1 0-6 0M357.74 73.93a3 3 0 1 0 6 0a3 3 0 1 0-6 0M132.69 161.02a3 3 0 1 0 6 0a3 3 0 1 0-6 0M470.27 30.11a3 3 0 1 0 6 0a3 3 0 1 0-6 0M245.21 118.25a3 3 0 1 0 6 0a3 3 0 1 0-6 0M329.61 80.89a3 3 0 1 0 6 0a3 3 0 1 0-6 0M104.56 177.05a3 3 0 1 0 6 0a3 3 0 1 0-6 0M442.14 42.2a3 3 0 1 0 6 0a3 3 0 1 0-6 0M217.08 121.73a3 3 0 1 0 6 0a3 3 0 1 0-6 0M385.87 65.74a3 3 0 1 0 6 0a3 3 0 1 0-6 0M160.82 150.03a3 3 0 1 0 6 0a3 3 0 1 0-6 0M498.4 21.09a3 3 0 1 0 6 0a3 3 0 1 0-6 0M273.35 98.82a3 3 0 1 0 6 0a3 3 0 1 0-6 0M283.9 104.1a3 3 0 1 0 6 0a3 3 0 1 0-6 0M508.95 16.6a3 3 0 1 0 6 0a3 3 0 1 0-6 0M396.42 62.01a3 3 0 1 0 6 0a3 3 0 1 0-6 0M171.37 147.4a3 3 0 1 0 6 0a3 3 0 1 0-6 0M340.16 76.83a3 3 0 1 0 6 0a3 3 0 1 0-6 0M115.11 172.21a3 3 0 1 0 6 0a3 3 0 1 0-6 0M452.68 38.39a3 3 0 1 0 6 0a3 3 0 1 0-6 0M227.63 120.51a3 3 0 1 0 6 0a3 3 0 1 0-6 0M312.03 84.27a3 3 0 1 0 6 0a3 3 0 1 0-6 0M86.97 183.95a3 3 0 1 0 6 0a3 3 0 1 0-6 0M424.55 47.56a3 3 0 1 0 6 0a3 3 0 1 0-6 0M199.5 139.53a3 3 0 1 0 6 0a3 3 0 1 0-6 0M368.29 70.2a3 3 0 1 0 6 0a3 3 0 1 0-6 0M143.24 154.3a3 3 0 1 0 6 0a3 3 0 1 0-6 0M480.82 28.93a3 3 0 1 0 6 0a3 3 0 1 0-6 0M255.76 111.63a3 3 0 1 0 6 0a3 3 0 1 0-6 0M297.96 93.25a3 3 0 1 0 6 0a3 3 0 1 0-6 0M523.01 12.26a3 3 0 1 0 6 0a3 3 0 1 0-6 0M410.49 54.78a3 3 0 1 0 6 0a3 3 0 1 0-6 0M185.44 136.85a3 3 0 1 0 6 0a3 3 0 1 0-6 0M354.22 78.3a3 3 0 1 0 6 0a3 3 0 1 0-6 0M129.17 164.64a3 3 0 1 0 6 0a3 3 0 1 0-6 0M466.75 31.31a3 3 0 1 0 6 0a3 3 0 1 0-6 0M241.7 121.13a3 3 0 1 0 6 0a3 3 0 1 0-6 0M326.09 84.68a3 3 0 1 0 6 0a3 3 0 1 0-6 0M101.04 176.98a3 3 0 1 0 6 0a3 3 0 1 0-6 0M438.62 41.82a3 3 0 1 0 6 0a3 3 0 1 0-6 0M213.57 131.65a3 3 0 1 0 6 0a3 3 0 1 0-6 0M382.36 63.31a3 3 0 1 0 6 0a3 3 0 1 0-6 0M157.3 156.56a3 3 0 1 0 6 0a3 3 0 1 0-6 0M494.88 22.49a3 3 0 1 0 6 0a3 3 0 1 0-6 0M269.83 102.03a3 3 0 1 0 6 0a3 3 0 1 0-6 0M290.93 102.97a3 3 0 1 0 6 0a3 3 0 1 0-6 0M515.98 14.83a3 3 0 1 0 6 0a3 3 0 1 0-6 0M403.45 55.95a3 3 0 1 0 6 0a3 3 0 1 0-6 0M178.4 137.51a3 3 0 1 0 6 0a3 3 0 1 0-6 0M347.19 80a3 3 0 1 0 6 0a3 3 0 1 0-6 0M122.14 165.18a3 3 0 1 0 6 0a3 3 0 1 0-6 0M459.72 37.36a3 3 0 1 0 6 0a3 3 0 1 0-6 0M234.67 121.72a3 3 0 1 0 6 0a3 3 0 1 0-6 0M319.06 83.76a3 3 0 1 0 6 0a3 3 0 1 0-6 0M94.01 181.58a3 3 0 1 0 6 0a3 3 0 1 0-6 0M431.59 46.79a3 3 0 1 0 6 0a3 3 0 1 0-6 0M206.53 129.67a3 3 0 1 0 6 0a3 3 0 1 0-6 0M375.32 63.85a3 3 0 1 0 6 0a3 3 0 1 0-6 0M150.27 156.51a3 3 0 1 0 6 0a3 3 0 1 0-6 0M487.85 24.99a3 3 0 1 0 6 0a3 3 0 1 0-6 0M262.8 113.95a3 3 0 1 0 6 0a3 3 0 1 0-6 0M304.99 94.04a3 3 0 1 0 6 0a3 3 0 1 0-6 0M79.94 185.26a3 3 0 1 0 6 0a3 3 0 1 0-6 0M417.52 52.95a3 3 0 1 0 6 0a3 3 0 1 0-6 0M192.47 136.61a3 3 0 1 0 6 0a3 3 0 1 0-6 0M361.26 71.8a3 3 0 1 0 6 0a3 3 0 1 0-6 0M136.2 157.42a3 3 0 1 0 6 0a3 3 0 1 0-6 0M473.78 31.29a3 3 0 1 0 6 0a3 3 0 1 0-6 0M248.73 111.98a3 3 0 1 0 6 0a3 3 0 1 0-6 0M333.13 86.9a3 3 0 1 0 6 0a3 3 0 1 0-6 0M108.07 174.68a3 3 0 1 0 6 0a3 3 0 1 0-6 0M445.65 39.64a3 3 0 1 0 6 0a3 3 0 1 0-6 0M220.6 130.05a3 3 0 1 0 6 0a3 3 0 1 0-6 0M389.39 62.89a3 3 0 1 0 6 0a3 3 0 1 0-6 0M164.34 147.75a3 3 0 1 0 6 0a3 3 0 1 0-6 0M501.92 18.77a3 3 0 1 0 6 0a3 3 0 1 0-6 0M276.86 106.21a3 3 0 1 0 6 0a3 3 0 1 0-6 0M279.5 99.9a3 3 0 1 0 6 0a3 3 0 1 0-6 0M504.55 19.98a3 3 0 1 0 6 0a3 3 0 1 0-6 0M392.03 62.3a3 3 0 1 0 6 0a3 3 0 1 0-6 0M166.97 143.59a3 3 0 1 0 6 0a3 3 0 1 0-6 0M335.76 85.09a3 3 0 1 0 6 0a3 3 0 1 0-6 0M110.71 172.16a3 3 0 1 0 6 0a3 3 0 1 0-6 0M448.29 38.89a3 3 0 1 0 6 0a3 3 0 1 0-6 0M223.24 117.47a3 3 0 1 0 6 0a3 3 0 1 0-6 0M307.63 94.18a3 3 0 1 0 6 0a3 3 0 1 0-6 0M82.58 183.88a3 3 0 1 0 6 0a3 3 0 1 0-6 0M420.16 52.54a3 3 0 1 0 6 0a3 3 0 1 0-6 0M195.11 137.21a3 3 0 1 0 6 0a3 3 0 1 0-6 0M363.89 68.09a3 3 0 1 0 6 0a3 3 0 1 0-6 0M138.84 162.62a3 3 0 1 0 6 0a3 3 0 1 0-6 0M476.42 29.72a3 3 0 1 0 6 0a3 3 0 1 0-6 0M251.37 112.64a3 3 0 1 0 6 0a3 3 0 1 0-6 0M293.57 91.27a3 3 0 1 0 6 0a3 3 0 1 0-6 0M518.62 13.5a3 3 0 1 0 6 0a3 3 0 1 0-6 0M406.09 54.59a3 3 0 1 0 6 0a3 3 0 1 0-6 0M181.04 146.8a3 3 0 1 0 6 0a3 3 0 1 0-6 0M349.83 78.13a3 3 0 1 0 6 0a3 3 0 1 0-6 0M124.78 163.48a3 3 0 1 0 6 0a3 3 0 1 0-6 0M462.36 35.94a3 3 0 1 0 6 0a3 3 0 1 0-6 0M237.3 118.88a3 3 0 1 0 6 0a3 3 0 1 0-6 0M321.7 84.77a3 3 0 1 0 6 0a3 3 0 1 0-6 0M96.64 177.26a3 3 0 1 0 6 0a3 3 0 1 0-6 0M434.22 46.48a3 3 0 1 0 6 0a3 3 0 1 0-6 0M209.17 127.07a3 3 0 1 0 6 0a3 3 0 1 0-6 0M377.96 69.31a3 3 0 1 0 6 0a3 3 0 1 0-6 0M152.91 154.45a3 3 0 1 0 6 0a3 3 0 1 0-6 0M490.49 23.72a3 3 0 1 0 6 0a3 3 0 1 0-6 0M265.43 111.88a3 3 0 1 0 6 0a3 3 0 1 0-6 0M286.53 99.46a3 3 0 1 0 6 0a3 3 0 1 0-6 0M511.59 15.66a3 3 0 1 0 6 0a3 3 0 1 0-6 0M399.06 55.23a3 3 0 1 0 6 0a3 3 0 1 0-6 0M174.01 146.77a3 3 0 1 0 6 0a3 3 0 1 0-6 0M342.8 76.35a3 3 0 1 0 6 0a3 3 0 1 0-6 0M117.74 171.94a3 3 0 1 0 6 0a3 3 0 1 0-6 0M455.32 37.53a3 3 0 1 0 6 0a3 3 0 1 0-6 0M230.27 115.9a3 3 0 1 0 6 0a3 3 0 1 0-6 0M314.66 92.8a3 3 0 1 0 6 0a3 3 0 1 0-6 0M89.61 182.07a3 3 0 1 0 6 0a3 3 0 1 0-6 0M427.19 47.51a3 3 0 1 0 6 0a3 3 0 1 0-6 0M202.14 127.97a3 3 0 1 0 6 0a3 3 0 1 0-6 0M370.93 71.27a3 3 0 1 0 6 0a3 3 0 1 0-6 0M145.88 155.32a3 3 0 1 0 6 0a3 3 0 1 0-6 0M483.45 27.96a3 3 0 1 0 6 0a3 3 0 1 0-6 0M258.4 112.93a3 3 0 1 0 6 0a3 3 0 1 0-6 0M300.6 90.25a3 3 0 1 0 6 0a3 3 0 1 0-6 0M75.55 188.52a3 3 0 1 0 6 0a3 3 0 1 0-6 0M413.12 53.11a3 3 0 1 0 6 0a3 3 0 1 0-6 0M188.07 137.91a3 3 0 1 0 6 0a3 3 0 1 0-6 0M356.86 70.28a3 3 0 1 0 6 0a3 3 0 1 0-6 0M131.81 165.14a3 3 0 1 0 6 0a3 3 0 1 0-6 0M469.39 31.45a3 3 0 1 0 6 0a3 3 0 1 0-6 0M244.34 121.79a3 3 0 1 0 6 0a3 3 0 1 0-6 0M328.73 85.41a3 3 0 1 0 6 0a3 3 0 1 0-6 0M103.68 174.21a3 3 0 1 0 6 0a3 3 0 1 0-6 0M441.26 44.16a3 3 0 1 0 6 0a3 3 0 1 0-6 0M216.2 127.31a3 3 0 1 0 6 0a3 3 0 1 0-6 0M384.99 62.8a3 3 0 1 0 6 0a3 3 0 1 0-6 0M159.94 145.25a3 3 0 1 0 6 0a3 3 0 1 0-6 0M497.52 21.66a3 3 0 1 0 6 0a3 3 0 1 0-6 0M272.47 101.69a3 3 0 1 0 6 0a3 3 0 1 0-6 0M283.02 106.62a3 3 0 1 0 6 0a3 3 0 1 0-6 0M508.07 17.39a3 3 0 1 0 6 0a3 3 0 1 0-6 0M395.54 57.78a3 3 0 1 0 6 0a3 3 0 1 0-6 0M170.49 149.66a3 3 0 1 0 6 0a3 3 0 1 0-6 0M339.28 80.07a3 3 0 1 0 6 0a3 3 0 1 0-6 0M114.23 169.97a3 3 0 1 0 6 0a3 3 0 1 0-6 0M451.81 36.89a3 3 0 1 0 6 0a3 3 0 1 0-6 0M226.75 126.67a3 3 0 1 0 6 0a3 3 0 1 0-6 0M311.15 88.19a3 3 0 1 0 6 0a3 3 0 1 0-6 0M86.1 185.12a3 3 0 1 0 6 0a3 3 0 1 0-6 0M423.67 49.74a3 3 0 1 0 6 0a3 3 0 1 0-6 0M198.62 130.58a3 3 0 1 0 6 0a3 3 0 1 0-6 0M367.41 73.12a3 3 0 1 0 6 0a3 3 0 1 0-6 0M142.36 158.67a3 3 0 1 0 6 0a3 3 0 1 0-6 0M479.94 27.6a3 3 0 1 0 6 0a3 3 0 1 0-6 0M254.88 105.72a3 3 0 1 0 6 0a3 3 0 1 0-6 0M297.08 98.71a3 3 0 1 0 6 0a3 3 0 1 0-6 0M522.13 11.6a3 3 0 1 0 6 0a3 3 0 1 0-6 0M409.61 56.8a3 3 0 1 0 6 0a3 3 0 1 0-6 0M184.56 141.37a3 3 0 1 0 6 0a3 3 0 1 0-6 0M353.35 72.36a3 3 0 1 0 6 0a3 3 0 1 0-6 0M128.29 167.06a3 3 0 1 0 6 0a3 3 0 1 0-6 0M465.87 33.11a3 3 0 1 0 6 0a3 3 0 1 0-6 0M240.82 115.13a3 3 0 1 0 6 0a3 3 0 1 0-6 0M325.21 79.25a3 3 0 1 0 6 0a3 3 0 1 0-6 0M100.16 178.48a3 3 0 1 0 6 0a3 3 0 1 0-6 0M437.74 42.87a3 3 0 1 0 6 0a3 3 0 1 0-6 0M212.69 134.22a3 3 0 1 0 6 0a3 3 0 1 0-6 0M381.48 65.86a3 3 0 1 0 6 0a3 3 0 1 0-6 0M432.94 60.89a3 3 0 1 0 6 0a3 3 0 1 0-6 0M287.21 115.39a3 3 0 1 0 6 0a3 3 0 1 0-6 0M155.34 171.65a3 3 0 1 0 6 0a3 3 0 1 0-6 0M245.4 126.32a3 3 0 1 0 6 0a3 3 0 1 0-6 0M124.14 179.91a3 3 0 1 0 6 0a3 3 0 1 0-6 0M329.89 103.75a3 3 0 1 0 6 0a3 3 0 1 0-6 0M181 156.01a3 3 0 1 0 6 0a3 3 0 1 0-6 0M228.2 144.2a3 3 0 1 0 6 0a3 3 0 1 0-6 0M97.09 186.69a3 3 0 1 0 6 0a3 3 0 1 0-6 0M304.97 104.95a3 3 0 1 0 6 0a3 3 0 1 0-6 0M163.01 165.06a3 3 0 1 0 6 0a3 3 0 1 0-6 0M266.41 132.66a3 3 0 1 0 6 0a3 3 0 1 0-6 0M133.97 173.47a3 3 0 1 0 6 0a3 3 0 1 0-6 0M368.06 82.08a3 3 0 1 0 6 0a3 3 0 1 0-6 0M195.48 162.96a3 3 0 1 0 6 0a3 3 0 1 0-6 0M222.68 139.29a3 3 0 1 0 6 0a3 3 0 1 0-6 0M83.3 188.38a3 3 0 1 0 6 0a3 3 0 1 0-6 0M288.88 121.71a3 3 0 1 0 6 0a3 3 0 1 0-6 0M161.67 160.75a3 3 0 1 0 6 0a3 3 0 1 0-6 0M253.94 130.57a3 3 0 1 0 6 0a3 3 0 1 0-6 0M132.22 179.65a3 3 0 1 0 6 0a3 3 0 1 0-6 0M346 89.44a3 3 0 1 0 6 0a3 3 0 1 0-6 0M190.92 154.13a3 3 0 1 0 6 0a3 3 0 1 0-6 0M244.52 143.51a3 3 0 1 0 6 0a3 3 0 1 0-6 0M107.93 181.05a3 3 0 1 0 6 0a3 3 0 1 0-6 0M312.46 111.34a3 3 0 1 0 6 0a3 3 0 1 0-6 0M179.66 163.04a3 3 0 1 0 6 0a3 3 0 1 0-6 0M276.77 114.52a3 3 0 1 0 6 0a3 3 0 1 0-6 0M147.51 168.97a3 3 0 1 0 6 0a3 3 0 1 0-6 0M387.75 80.15a3 3 0 1 0 6 0a3 3 0 1 0-6 0M208.22 142.09a3 3 0 1 0 6 0a3 3 0 1 0-6 0M223.69 145.14a3 3 0 1 0 6 0a3 3 0 1 0-6 0M459.49 45.91a3 3 0 1 0 6 0a3 3 0 1 0-6 0M287.92 114.93a3 3 0 1 0 6 0a3 3 0 1 0-6 0M153.67 169.57a3 3 0 1 0 6 0a3 3 0 1 0-6 0M256 136.13a3 3 0 1 0 6 0a3 3 0 1 0-6 0M123.72 173.83a3 3 0 1 0 6 0a3 3 0 1 0-6 0M341.27 94.86a3 3 0 1 0 6 0a3 3 0 1 0-6 0M184.11 161.42a3 3 0 1 0 6 0a3 3 0 1 0-6 0M240.32 130.97a3 3 0 1 0 6 0a3 3 0 1 0-6 0M101.27 183.11a3 3 0 1 0 6 0a3 3 0 1 0-6 0M308.15 112.07a3 3 0 1 0 6 0a3 3 0 1 0-6 0M172.93 156.87a3 3 0 1 0 6 0a3 3 0 1 0-6 0M265.81 125.83a3 3 0 1 0 6 0a3 3 0 1 0-6 0M137.09 177.6a3 3 0 1 0 6 0a3 3 0 1 0-6 0M380.39 72.5a3 3 0 1 0 6 0a3 3 0 1 0-6 0M200.64 152.67a3 3 0 1 0 6 0a3 3 0 1 0-6 0M226.72 148.28a3 3 0 1 0 6 0a3 3 0 1 0-6 0M90.74 188.92a3 3 0 1 0 6 0a3 3 0 1 0-6 0M295.59 112.59a3 3 0 1 0 6 0a3 3 0 1 0-6 0M167.63 170.89a3 3 0 1 0 6 0a3 3 0 1 0-6 0M260.93 123.43a3 3 0 1 0 6 0a3 3 0 1 0-6 0M127.31 176.92a3 3 0 1 0 6 0a3 3 0 1 0-6 0M351.05 91.12a3 3 0 1 0 6 0a3 3 0 1 0-6 0M196.22 145.21a3 3 0 1 0 6 0a3 3 0 1 0-6 0M241.8 134.04a3 3 0 1 0 6 0a3 3 0 1 0-6 0M116.36 183.36a3 3 0 1 0 6 0a3 3 0 1 0-6 0M323.42 97.53a3 3 0 1 0 6 0a3 3 0 1 0-6 0M179.15 162.64a3 3 0 1 0 6 0a3 3 0 1 0-6 0M279.44 126.62a3 3 0 1 0 6 0a3 3 0 1 0-6 0M145.21 167.08a3 3 0 1 0 6 0a3 3 0 1 0-6 0M410.43 67.33a3 3 0 1 0 6 0a3 3 0 1 0-6 0M208.6 153.43a3 3 0 1 0 6 0a3 3 0 1 0-6 0M213.88 141.88a3 3 0 1 0 6 0a3 3 0 1 0-6 0M440.78 54.54a3 3 0 1 0 6 0a3 3 0 1 0-6 0M284.87 122.93a3 3 0 1 0 6 0a3 3 0 1 0-6 0M149.31 165.47a3 3 0 1 0 6 0a3 3 0 1 0-6 0M245.72 133a3 3 0 1 0 6 0a3 3 0 1 0-6 0M124.51 181.55a3 3 0 1 0 6 0a3 3 0 1 0-6 0M328.4 97a3 3 0 1 0 6 0a3 3 0 1 0-6 0M184.55 157.67a3 3 0 1 0 6 0a3 3 0 1 0-6 0M230.15 143.06a3 3 0 1 0 6 0a3 3 0 1 0-6 0M107.51 180.23a3 3 0 1 0 6 0a3 3 0 1 0-6 0M309.39 108.81a3 3 0 1 0 6 0a3 3 0 1 0-6 0M174.45 167.07a3 3 0 1 0 6 0a3 3 0 1 0-6 0M271.33 116.72a3 3 0 1 0 6 0a3 3 0 1 0-6 0M134.54 173.9a3 3 0 1 0 6 0a3 3 0 1 0-6 0M375.08 84.74a3 3 0 1 0 6 0a3 3 0 1 0-6 0M200.27 147.88a3 3 0 1 0 6 0a3 3 0 1 0-6 0M222.38 144.15a3 3 0 1 0 6 0a3 3 0 1 0-6 0M85.14 189.06a3 3 0 1 0 6 0a3 3 0 1 0-6 0M291.96 122.2a3 3 0 1 0 6 0a3 3 0 1 0-6 0M165.86 163.92a3 3 0 1 0 6 0a3 3 0 1 0-6 0M255.87 134.63a3 3 0 1 0 6 0a3 3 0 1 0-6 0M128.04 176.38a3 3 0 1 0 6 0a3 3 0 1 0-6 0M346.86 93.08a3 3 0 1 0 6 0a3 3 0 1 0-6 0M197.98 158.77a3 3 0 1 0 6 0a3 3 0 1 0-6 0M245.53 131.88a3 3 0 1 0 6 0a3 3 0 1 0-6 0M116.05 183.42a3 3 0 1 0 6 0a3 3 0 1 0-6 0M318.85 106.04a3 3 0 1 0 6 0a3 3 0 1 0-6 0M176.39 153.04a3 3 0 1 0 6 0a3 3 0 1 0-6 0M276.49 119.12a3 3 0 1 0 6 0a3 3 0 1 0-6 0M149.51 175.73a3 3 0 1 0 6 0a3 3 0 1 0-6 0M403.81 64.44a3 3 0 1 0 6 0a3 3 0 1 0-6 0M208.69 147.22a3 3 0 1 0 6 0a3 3 0 1 0-6 0M219.41 149.62a3 3 0 1 0 6 0a3 3 0 1 0-6 0M488.42 30.69a3 3 0 1 0 6 0a3 3 0 1 0-6 0M292.93 116.42a3 3 0 1 0 6 0a3 3 0 1 0-6 0M154.63 170.32a3 3 0 1 0 6 0a3 3 0 1 0-6 0M249.55 124.15a3 3 0 1 0 6 0a3 3 0 1 0-6 0M123.41 177.1a3 3 0 1 0 6 0a3 3 0 1 0-6 0M345.65 96.26a3 3 0 1 0 6 0a3 3 0 1 0-6 0M191.33 151.76a3 3 0 1 0 6 0a3 3 0 1 0-6 0M232.84 142.74a3 3 0 1 0 6 0a3 3 0 1 0-6 0M104.93 186.61a3 3 0 1 0 6 0a3 3 0 1 0-6 0M311.58 104.13a3 3 0 1 0 6 0a3 3 0 1 0-6 0M177.61 164.74a3 3 0 1 0 6 0a3 3 0 1 0-6 0M268.72 126.62a3 3 0 1 0 6 0a3 3 0 1 0-6 0M137.14 172.09a3 3 0 1 0 6 0a3 3 0 1 0-6 0M382.27 77.99a3 3 0 1 0 6 0a3 3 0 1 0-6 0M204.33 157.61a3 3 0 1 0 6 0a3 3 0 1 0-6 0M230.51 133.67a3 3 0 1 0 6 0a3 3 0 1 0-6 0M93.01 186.89a3 3 0 1 0 6 0a3 3 0 1 0-6 0M300.49 118.76a3 3 0 1 0 6 0a3 3 0 1 0-6 0M170.01 160.84a3 3 0 1 0 6 0a3 3 0 1 0-6 0M259.07 132.31a3 3 0 1 0 6 0a3 3 0 1 0-6 0M135.14 174.59a3 3 0 1 0 6 0a3 3 0 1 0-6 0M362.58 81.06a3 3 0 1 0 6 0a3 3 0 1 0-6 0M195.44 155.33a3 3 0 1 0 6 0a3 3 0 1 0-6 0M247.11 138.96a3 3 0 1 0 6 0a3 3 0 1 0-6 0M116.27 177.56a3 3 0 1 0 6 0a3 3 0 1 0-6 0M324.79 98.92a3 3 0 1 0 6 0a3 3 0 1 0-6 0M184.02 166.73a3 3 0 1 0 6 0a3 3 0 1 0-6 0M284.57 117.57a3 3 0 1 0 6 0a3 3 0 1 0-6 0M150.09 171.74a3 3 0 1 0 6 0a3 3 0 1 0-6 0M414.79 69.54a3 3 0 1 0 6 0a3 3 0 1 0-6 0M216.43 142.07a3 3 0 1 0 6 0a3 3 0 1 0-6 0M217.21 142.02a3 3 0 1 0 6 0a3 3 0 1 0-6 0M431.07 61.7a3 3 0 1 0 6 0a3 3 0 1 0-6 0M285.28 113.36a3 3 0 1 0 6 0a3 3 0 1 0-6 0M154.16 167a3 3 0 1 0 6 0a3 3 0 1 0-6 0M245.59 142.82a3 3 0 1 0 6 0a3 3 0 1 0-6 0M118.87 181.36a3 3 0 1 0 6 0a3 3 0 1 0-6 0M334.61 97.6a3 3 0 1 0 6 0a3 3 0 1 0-6 0M186.84 163.71a3 3 0 1 0 6 0a3 3 0 1 0-6 0M236.04 129.48a3 3 0 1 0 6 0a3 3 0 1 0-6 0M100.78 183.33a3 3 0 1 0 6 0a3 3 0 1 0-6 0M304.44 115.87a3 3 0 1 0 6 0a3 3 0 1 0-6 0M164.92 161.57a3 3 0 1 0 6 0a3 3 0 1 0-6 0M261.29 128.34a3 3 0 1 0 6 0a3 3 0 1 0-6 0M139.23 176.37a3 3 0 1 0 6 0a3 3 0 1 0-6 0M371.35 77.61a3 3 0 1 0 6 0a3 3 0 1 0-6 0M198.45 154.28a3 3 0 1 0 6 0a3 3 0 1 0-6 0M224.08 145.5a3 3 0 1 0 6 0a3 3 0 1 0-6 0M85 186.31a3 3 0 1 0 6 0a3 3 0 1 0-6 0M291.85 112.72a3 3 0 1 0 6 0a3 3 0 1 0-6 0M165.3 170.89a3 3 0 1 0 6 0a3 3 0 1 0-6 0M260.81 125.84a3 3 0 1 0 6 0a3 3 0 1 0-6 0M126.47 179.39a3 3 0 1 0 6 0a3 3 0 1 0-6 0M350 92.91a3 3 0 1 0 6 0a3 3 0 1 0-6 0M195.13 151.85a3 3 0 1 0 6 0a3 3 0 1 0-6 0M244.38 138.03a3 3 0 1 0 6 0a3 3 0 1 0-6 0M109.56 182.53a3 3 0 1 0 6 0a3 3 0 1 0-6 0M318.21 97.68a3 3 0 1 0 6 0a3 3 0 1 0-6 0M178.36 156.53a3 3 0 1 0 6 0a3 3 0 1 0-6 0M274.5 126.13a3 3 0 1 0 6 0a3 3 0 1 0-6 0M146.71 165.45a3 3 0 1 0 6 0a3 3 0 1 0-6 0M394.33 71.6a3 3 0 1 0 6 0a3 3 0 1 0-6 0M209.4 157.73a3 3 0 1 0 6 0a3 3 0 1 0-6 0M217.9 141.92a3 3 0 1 0 6 0a3 3 0 1 0-6 0M465.58 38.87a3 3 0 1 0 6 0a3 3 0 1 0-6 0M285.65 122.96a3 3 0 1 0 6 0a3 3 0 1 0-6 0M152.95 173.2a3 3 0 1 0 6 0a3 3 0 1 0-6 0M251.39 131.55a3 3 0 1 0 6 0a3 3 0 1 0-6 0M120.22 184.23a3 3 0 1 0 6 0a3 3 0 1 0-6 0M340.68 89.21a3 3 0 1 0 6 0a3 3 0 1 0-6 0M190.66 153.86a3 3 0 1 0 6 0a3 3 0 1 0-6 0M232.46 145.91a3 3 0 1 0 6 0a3 3 0 1 0-6 0M105.67 180.95a3 3 0 1 0 6 0a3 3 0 1 0-6 0M313.84 104.65a3 3 0 1 0 6 0a3 3 0 1 0-6 0M168.53 165.01a3 3 0 1 0 6 0a3 3 0 1 0-6 0M274.28 114.39a3 3 0 1 0 6 0a3 3 0 1 0-6 0M136.97 174.88a3 3 0 1 0 6 0a3 3 0 1 0-6 0M376.5 84.37a3 3 0 1 0 6 0a3 3 0 1 0-6 0M208.11 141.66a3 3 0 1 0 6 0a3 3 0 1 0-6 0M230 138.68a3 3 0 1 0 6 0a3 3 0 1 0-6 0M95.22 187.68a3 3 0 1 0 6 0a3 3 0 1 0-6 0M295.49 112.61a3 3 0 1 0 6 0a3 3 0 1 0-6 0M167.27 167.2a3 3 0 1 0 6 0a3 3 0 1 0-6 0M259.64 132.98a3 3 0 1 0 6 0a3 3 0 1 0-6 0M128.14 174.75a3 3 0 1 0 6 0a3 3 0 1 0-6 0M355.15 85.81a3 3 0 1 0 6 0a3 3 0 1 0-6 0M195.45 161.44a3 3 0 1 0 6 0a3 3 0 1 0-6 0M249.21 127.85a3 3 0 1 0 6 0a3 3 0 1 0-6 0M120.07 178.85a3 3 0 1 0 6 0a3 3 0 1 0-6 0M406.88 60.63a3 3 0 1 0 6 0a3 3 0 1 0-6 0M299.82 104.39a3 3 0 1 0 6 0a3 3 0 1 0-6 0M85.72 189.02a3 3 0 1 0 6 0a3 3 0 1 0-6 0M246.3 124.52a3 3 0 1 0 6 0a3 3 0 1 0-6 0M460.4 41.5a3 3 0 1 0 6 0a3 3 0 1 0-6 0M353.35 85.76a3 3 0 1 0 6 0a3 3 0 1 0-6 0M139.25 167.28a3 3 0 1 0 6 0a3 3 0 1 0-6 0M219.53 137.09a3 3 0 1 0 6 0a3 3 0 1 0-6 0M433.64 53.23a3 3 0 1 0 6 0a3 3 0 1 0-6 0M326.59 92.49a3 3 0 1 0 6 0a3 3 0 1 0-6 0M112.48 178.51a3 3 0 1 0 6 0a3 3 0 1 0-6 0M273.06 117.12a3 3 0 1 0 6 0a3 3 0 1 0-6 0" fill="none" stroke="#000" stroke-width="1.1"/>
<path d="M50.8 200.8L537.4 8.7" stroke="#000" stroke-width="2.2"/>
<text x="178.8" y="51.8">R² = 0.98</text>
<circle cx="425.5" cy="112.8" r="2.85" fill="#fff" stroke="#000" stroke-width="1.2"/>
<text x="439.6" y="117.5">Fitted Eci</text>
<path d="M413.5 132.4H437.2" stroke="#000" stroke-width="2.1"/>
<text x="439.6" y="137.1">1:1 Line</text>
<text transform="translate(14.8 138) rotate(-90)" font-size="13.6">Fitted <tspan font-style="italic">E</tspan><tspan font-style="italic" font-size="9.2" dy="3">ci</tspan></text>
<text x="260.3" y="229.5">Simulated <tspan font-style="italic">E</tspan><tspan font-style="italic" font-size="9.2" dy="3">ci</tspan></text>
<text x="8.5" y="225.5">(a)</text>
<path d="M49.5 240.9H539.6V434.6" fill="none" stroke="#bcbcbc" stroke-width="1.4"/>
<path d="M49.5 434.6H539.6" stroke="#555" stroke-width="1.6"/>
<path d="M49.5 240.3V435.2" stroke="#333" stroke-width="1.5"/>
<path d="M49.5 431.3V438.2M46.1 434.6H52.9M69.1 431.8V434.6M46.7 426.85H49.5M88.71 431.8V434.6M46.7 419.1H49.5M108.31 431.8V434.6M46.7 411.36H49.5M127.92 431.8V434.6M46.7 403.61H49.5M147.52 431.3V438.2M46.1 395.86H52.9M167.12 431.8V434.6M46.7 388.11H49.5M186.73 431.8V434.6M46.7 380.36H49.5M206.33 431.8V434.6M46.7 372.62H49.5M225.94 431.8V434.6M46.7 364.87H49.5M245.54 431.3V438.2M46.1 357.12H52.9M265.14 431.8V434.6M46.7 349.37H49.5M284.75 431.8V434.6M46.7 341.62H49.5M304.35 431.8V434.6M46.7 333.88H49.5M323.96 431.8V434.6M46.7 326.13H49.5M343.56 431.3V438.2M46.1 318.38H52.9M363.16 431.8V434.6M46.7 310.63H49.5M382.77 431.8V434.6M46.7 302.88H49.5M402.37 431.8V434.6M46.7 295.14H49.5M421.98 431.8V434.6M46.7 287.39H49.5M441.58 431.3V438.2M46.1 279.64H52.9M461.18 431.8V434.6M46.7 271.89H49.5M480.79 431.8V434.6M46.7 264.14H49.5M500.39 431.8V434.6M46.7 256.4H49.5M520 431.8V434.6M46.7 248.65H49.5M539.6 431.3V438.2M46.1 240.9H52.9" stroke="#333" stroke-width="1.2"/>
<text x="38.4" y="439" text-anchor="end">0.0</text>
<text x="49.5" y="454.4" text-anchor="middle">0.0</text>
<text x="38.4" y="400.26" text-anchor="end">0.2</text>
<text x="147.52" y="454.4" text-anchor="middle">0.2</text>
<text x="38.4" y="361.52" text-anchor="end">0.4</text>
<text x="245.54" y="454.4" text-anchor="middle">0.4</text>
<text x="38.4" y="322.78" text-anchor="end">0.6</text>
<text x="343.56" y="454.4" text-anchor="middle">0.6</text>
<text x="38.4" y="284.04" text-anchor="end">0.8</text>
<text x="441.58" y="454.4" text-anchor="middle">0.8</text>
<text x="38.4" y="245.3" text-anchor="end">1.0</text>
<text x="539.6" y="454.4" text-anchor="middle">1.0</text>
<path d="M49.5 434.6L51.95 432.25L54.4 429.91L56.85 427.59L59.3 425.28L61.75 423L64.2 420.73L66.65 418.47L69.1 416.24L71.55 414.02L74 411.81L76.46 409.63L78.91 407.46L81.36 405.3L83.81 403.17L86.26 401.05L88.71 398.94L91.16 396.85L93.61 394.78L96.06 392.73L98.51 390.69L100.96 388.67L103.41 386.66L105.86 384.67L108.31 382.7L110.76 380.74L113.21 378.8L115.66 376.87L118.11 374.96L120.56 373.07L123.02 371.19L125.47 369.33L127.92 367.48L130.37 365.65L132.82 363.84L135.27 362.04L137.72 360.25L140.17 358.49L142.62 356.73L145.07 355L147.52 353.27L149.97 351.57L152.42 349.88L154.87 348.2L157.32 346.54L159.77 344.9L162.22 343.27L164.67 341.65L167.12 340.06L169.57 338.47L172.03 336.9L174.48 335.35L176.93 333.81L179.38 332.28L181.83 330.77L184.28 329.28L186.73 327.8L189.18 326.34L191.63 324.88L194.08 323.45L196.53 322.03L198.98 320.62L201.43 319.23L203.88 317.85L206.33 316.49L208.78 315.14L211.23 313.8L213.68 312.48L216.13 311.18L218.58 309.89L221.03 308.61L223.49 307.34L225.94 306.09L228.39 304.86L230.84 303.64L233.29 302.43L235.74 301.23L238.19 300.05L240.64 298.89L243.09 297.73L245.54 296.6L247.99 295.47L250.44 294.36L252.89 293.26L255.34 292.17L257.79 291.1L260.24 290.04L262.69 289L265.14 287.97L267.59 286.95L270.05 285.94L272.5 284.95L274.95 283.97L277.4 283L279.85 282.05L282.3 281.11L284.75 280.18L287.2 279.27L289.65 278.36L292.1 277.47L294.55 276.6L297 275.73L299.45 274.88L301.9 274.04L304.35 273.21L306.8 272.4L309.25 271.59L311.7 270.8L314.15 270.02L316.6 269.26L319.06 268.5L321.51 267.76L323.96 267.03L326.41 266.31L328.86 265.61L331.31 264.91L333.76 264.23L336.21 263.56L338.66 262.89L341.11 262.25L343.56 261.61L346.01 260.98L348.46 260.37L350.91 259.76L353.36 259.17L355.81 258.59L358.26 258.02L360.71 257.46L363.16 256.91L365.61 256.38L368.06 255.85L370.52 255.33L372.97 254.83L375.42 254.34L377.87 253.85L380.32 253.38L382.77 252.91L385.22 252.46L387.67 252.02L390.12 251.59L392.57 251.16L395.02 250.75L397.47 250.35L399.92 249.96L402.37 249.57L404.82 249.2L407.27 248.84L409.72 248.48L412.17 248.14L414.62 247.8L417.08 247.48L419.53 247.16L421.98 246.85L424.43 246.56L426.88 246.27L429.33 245.99L431.78 245.72L434.23 245.45L436.68 245.2L439.13 244.95L441.58 244.72L444.03 244.49L446.48 244.27L448.93 244.06L451.38 243.85L453.83 243.66L456.28 243.47L458.73 243.29L461.18 243.11L463.63 242.95L466.09 242.79L468.54 242.64L470.99 242.5L473.44 242.36L475.89 242.23L478.34 242.11L480.79 242L483.24 241.89L485.69 241.79L488.14 241.69L490.59 241.6L493.04 241.52L495.49 241.44L497.94 241.37L500.39 241.31L502.84 241.25L505.29 241.19L507.74 241.15L510.19 241.1L512.64 241.06L515.1 241.03L517.55 241L520 240.98L522.45 240.95L524.9 240.94L527.35 240.92L529.8 240.91L532.25 240.91L534.7 240.9L537.15 240.9L539.6 240.9" fill="none" stroke="#000" stroke-width="2.5"/>
<path d="M325.5 304.03h6.8M328.9 300.63v6.8M480.19 245.35h6.8M483.59 241.95v6.8M172.53 365.67h6.8M175.93 362.27v6.8M400.88 259.46h6.8M404.28 256.06v6.8M268.87 288.32h6.8M272.27 284.92v6.8M148.44 363.05h6.8M151.84 359.65v6.8M362.43 274.14h6.8M365.83 270.74v6.8M244.77 335.73h6.8M248.17 332.33v6.8M521.18 241.36h6.8M524.58 237.96v6.8M196.61 326.06h6.8M200.01 322.66v6.8M440.11 261h6.8M443.51 257.6v6.8M294.89 304.15h6.8M298.29 300.75v6.8M343.5 282.84h6.8M346.9 279.44v6.8M232.73 309.77h6.8M236.13 306.37v6.8M500.57 246.58h6.8M503.97 243.18v6.8M184.57 347.74h6.8M187.97 344.34v6.8M420.39 248.13h6.8M423.79 244.73v6.8M281.43 311.76h6.8M284.83 308.36v6.8M160.48 343.12h6.8M163.88 339.72v6.8M381.56 269.54h6.8M384.96 266.14v6.8M256.81 302.68h6.8M260.21 299.28v6.8M208.65 353.4h6.8M212.05 350v6.8M460.04 252.78h6.8M463.44 249.38v6.8M309.47 276.12h6.8M312.87 272.72v6.8M334.22 279.88h6.8M337.62 276.48v6.8M226.71 333.97h6.8M230.11 330.57v6.8M490.35 242.77h6.8M493.75 239.37v6.8M178.55 339.8h6.8M181.95 336.4v6.8M410.61 272.25h6.8M414.01 268.85v6.8M275.05 304.96h6.8M278.45 301.56v6.8M154.46 372.71h6.8M157.86 369.31v6.8M371.97 265.73h6.8M375.37 262.33v6.8M250.79 294.48h6.8M254.19 291.08v6.8M531.57 241.12h6.8M534.97 237.72v6.8M202.63 330.39h6.8M206.03 326.99v6.8M450.05 245.37h6.8M453.45 241.97v6.8M352.94 288.73h6.8M356.34 285.33v6.8M238.75 315.02h6.8M242.15 311.62v6.8M510.84 241.05h6.8M514.24 237.65v6.8M430.23 256.04h6.8M433.63 252.64v6.8M288.04 287.25h6.8M291.44 283.85v6.8M166.5 359.26h6.8M169.9 355.86v6.8M391.19 263.79h6.8M394.59 260.39v6.8M262.83 322.4h6.8M266.23 319v6.8M214.67 312.84h6.8M218.07 309.44v6.8M470.09 248.79h6.8M473.49 245.39v6.8M317.27 292.85h6.8M320.67 289.45v6.8M329.79 282.83h6.8M333.19 279.43v6.8M223.7 310.73h6.8M227.1 307.33v6.8M485.27 249h6.8M488.67 245.6v6.8M175.54 348.91h6.8M178.94 345.51v6.8M405.74 257.97h6.8M409.14 254.57v6.8M271.93 310.91h6.8M275.33 307.51v6.8M151.45 354.83h6.8M154.85 351.43v6.8M367.2 286.09h6.8M370.6 282.69v6.8M247.78 314.95h6.8M251.18 311.55v6.8M526.37 240.92h6.8M529.77 237.52v6.8M199.62 348.35h6.8M203.02 344.95v6.8M298.42 316.02h6.8M301.82 312.62v6.8M348.21 267.36h6.8M351.61 263.96v6.8M235.74 341.56h6.8M239.14 338.16v6.8M505.7 243.97h6.8M509.1 240.57v6.8M187.58 332.32h6.8M190.98 328.92v6.8M425.3 263.29h6.8M428.7 259.89v6.8M284.7 298h6.8M288.1 294.6v6.8M163.49 365.69h6.8M166.89 362.29v6.8M386.37 269.3h6.8M389.77 265.9v6.8M259.82 298.4h6.8M263.22 295v6.8M211.66 335.03h6.8M215.06 331.63v6.8M465.06 247.36h6.8M468.46 243.96v6.8M313.32 305.23h6.8M316.72 301.83v6.8M338.8 292.31h6.8M342.2 288.91v6.8M229.72 316.75h6.8M233.12 313.35v6.8M495.45 243.58h6.8M498.85 240.18v6.8M181.56 362.81h6.8M184.96 359.41v6.8M415.49 256.78h6.8M418.89 253.38v6.8M157.47 358.69h6.8M160.87 355.29v6.8M376.76 253.85h6.8M380.16 250.45v6.8M253.8 318.18h6.8M257.2 314.78v6.8M205.64 325.83h6.8M209.04 322.43v6.8M455.04 259.05h6.8M458.44 255.65v6.8M305.7 293.83h6.8M309.1 290.43v6.8M145.43 378.44h6.8M148.83 375.04v6.8M357.68 280.72h6.8M361.08 277.32v6.8M241.76 299.68h6.8M245.16 296.28v6.8M516 242.13h6.8M519.4 238.73v6.8M193.6 336.56h6.8M197 333.16v6.8M435.16 253.96h6.8M438.56 250.56v6.8M291.43 316.98h6.8M294.83 313.58v6.8M169.52 341.41h6.8M172.92 338.01v6.8M265.84 303.97h6.8M269.24 300.57v6.8M217.68 336.42h6.8M221.08 333.02v6.8M475.14 243.87h6.8M478.54 240.47v6.8M321.33 273.14h6.8M324.73 269.74v6.8M327.63 282.86h6.8M331.03 279.46v6.8M222.2 337.7h6.8M225.6 334.3v6.8M482.73 243.64h6.8M486.13 240.24v6.8M174.03 370.48h6.8M177.43 367.08v6.8M403.3 268.86h6.8M406.7 265.46v6.8M270.39 296.11h6.8M273.79 292.71v6.8M149.95 379.61h6.8M153.35 376.21v6.8M364.81 280.46h6.8M368.21 277.06v6.8M246.28 300.96h6.8M249.68 297.56v6.8M523.77 242.11h6.8M527.17 238.71v6.8M198.11 337.97h6.8M201.51 334.57v6.8M442.59 244.84h6.8M445.99 241.44v6.8M296.65 309.33h6.8M300.05 305.93v6.8M345.85 292.4h6.8M349.25 289v6.8M234.24 322.8h6.8M237.64 319.4v6.8M503.13 242.51h6.8M506.53 239.11v6.8M186.07 356.42h6.8M189.47 353.02v6.8M422.85 259.74h6.8M426.25 256.34v6.8M283.06 280.7h6.8M286.46 277.3v6.8M383.96 266.36h6.8M387.36 262.96v6.8M258.32 326.15h6.8M261.72 322.75v6.8M210.15 316.36h6.8M213.55 312.96v6.8M462.55 253.88h6.8M465.95 250.48v6.8M311.38 295.92h6.8M314.78 292.52v6.8M336.49 271.27h6.8M339.89 267.87v6.8M228.22 314.46h6.8M231.62 311.06v6.8M492.9 248.97h6.8M496.3 245.57v6.8M180.05 352.69h6.8M183.45 349.29v6.8M413.05 250.11h6.8M416.45 246.71v6.8M276.62 317.29h6.8M280.02 313.89v6.8M155.97 348.01h6.8M159.37 344.61v6.8M374.36 280.22h6.8M377.76 276.82v6.8M252.3 307.33h6.8M255.7 303.93v6.8M204.13 353.86h6.8M207.53 350.46v6.8M452.54 254.14h6.8M455.94 250.74v6.8M303.85 292.75h6.8M307.25 289.35v6.8M240.26 325.99h6.8M243.66 322.59v6.8M513.42 242.16h6.8M516.82 238.76v6.8M192.09 330.91h6.8M195.49 327.51v6.8M432.69 262.37h6.8M436.09 258.97v6.8M289.73 297.35h6.8M293.13 293.95v6.8M168.01 364.63h6.8M171.41 361.23v6.8M393.61 259.11h6.8M397.01 255.71v6.8M264.34 287.61h6.8M267.74 284.21v6.8M216.17 321.98h6.8M219.57 318.58v6.8M472.61 247.06h6.8M476.01 243.66v6.8M319.29 305.27h6.8M322.69 301.87v6.8M331.99 298.43h6.8M335.39 295.03v6.8M225.21 324.37h6.8M228.61 320.97v6.8M487.81 241.75h6.8M491.21 238.35v6.8M408.17 262.66h6.8M411.57 259.26v6.8M273.48 291.96h6.8M276.88 288.56v6.8M152.96 365.63h6.8M156.36 362.23v6.8M369.58 257.78h6.8M372.98 254.38v6.8M528.97 241.14h6.8M532.37 237.74v6.8M201.12 319.07h6.8M204.52 315.67v6.8M447.56 252.71h6.8M450.96 249.31v6.8M300.21 285.35h6.8M303.61 281.95v6.8M350.58 283.97h6.8M353.98 280.57v6.8M237.25 302.92h6.8M240.65 299.52v6.8M508.27 243.18h6.8M511.67 239.78v6.8M189.08 340.25h6.8M192.48 336.85v6.8M427.76 268.16h6.8M431.16 264.76v6.8M286.36 303.19h6.8M289.76 299.79v6.8M165 348.41h6.8M168.4 345.01v6.8M388.78 280.12h6.8M392.18 276.72v6.8M261.33 311.72h6.8M264.73 308.32v6.8M213.16 344.79h6.8M216.56 341.39v6.8M315.29 286.33h6.8M318.69 282.93v6.8M341.14 267.59h6.8M344.54 264.19v6.8M231.23 340.07h6.8M234.63 336.67v6.8M183.06 332.72h6.8M186.46 329.32v6.8M417.94 267h6.8M421.34 263.6v6.8M279.82 297.3h6.8M283.22 293.9v6.8M158.98 365.68h6.8M162.38 362.28v6.8M379.16 270.3h6.8M382.56 266.9v6.8M255.31 298.02h6.8M258.71 294.62v6.8M207.14 334.56h6.8M210.54 331.16v6.8M457.54 248.11h6.8M460.94 244.71v6.8M307.57 305.74h6.8M310.97 302.34v6.8M146.94 382.19h6.8M150.34 378.79v6.8M360.06 275.09h6.8M363.46 271.69v6.8M243.27 307.64h6.8M246.67 304.24v6.8M518.59 241.63h6.8M521.99 238.23v6.8M195.1 360.21h6.8M198.5 356.81v6.8M437.64 253.62h6.8M441.04 250.22v6.8M171.02 353.61h6.8M174.42 350.21v6.8M398.45 251.06h6.8M401.85 247.66v6.8M267.35 315.88h6.8M270.75 312.48v6.8M477.66 252.43h6.8M481.06 249.03v6.8M323.4 295.46h6.8M326.8 292.06v6.8M326.56 291.56h6.8M329.96 288.16v6.8M221.44 308.87h6.8M224.84 305.47v6.8M481.46 248.95h6.8M484.86 245.55v6.8M173.28 347.07h6.8M176.68 343.67v6.8M402.09 252.74h6.8M405.49 249.34v6.8M269.63 322.71h6.8M273.03 319.31v6.8M149.2 353.75h6.8M152.6 350.35v6.8M363.62 279.93h6.8M367.02 276.53v6.8M245.52 312.27h6.8M248.92 308.87v6.8M522.47 241.17h6.8M525.87 237.77v6.8M197.36 345.64h6.8M200.76 342.24v6.8M441.35 253.62h6.8M444.75 250.22v6.8M295.77 284.65h6.8M299.17 281.25v6.8M344.67 278.38h6.8M348.07 274.98v6.8M233.48 336.2h6.8M236.88 332.8v6.8M501.85 242.38h6.8M505.25 238.98v6.8M185.32 329.58h6.8M188.72 326.18v6.8M282.24 294.1h6.8M285.64 290.7v6.8M161.24 373.43h6.8M164.64 370.03v6.8M382.76 266.12h6.8M386.16 262.72v6.8M257.57 295.12h6.8M260.97 291.72v6.8M209.4 331.14h6.8M212.8 327.74v6.8M461.3 243.12h6.8M464.7 239.72v6.8M310.42 295.5h6.8M313.82 292.1v6.8M335.35 298.35h6.8M338.75 294.95v6.8M227.46 325.13h6.8M230.86 321.73v6.8M491.63 241.69h6.8M495.03 238.29v6.8M179.3 358.79h6.8M182.7 355.39v6.8M411.83 262.36h6.8M415.23 258.96v6.8M275.83 282.82h6.8M279.23 279.42v6.8M373.17 270.93h6.8M376.57 267.53v6.8M251.55 333.35h6.8M254.95 329.95v6.8M532.88 241.01h6.8M536.28 237.61v6.8M203.38 322.69h6.8M206.78 319.29v6.8M451.3 255.49h6.8M454.7 252.09v6.8M354.13 268.24h6.8M357.53 264.84v6.8M239.5 306.9h6.8M242.9 303.5v6.8M512.13 244.32h6.8M515.53 240.92v6.8M191.34 344.64h6.8M194.74 341.24v6.8M431.46 253.43h6.8M434.86 250.03v6.8M288.88 309.18h6.8M292.28 305.78v6.8M167.26 339.08h6.8M170.66 335.68v6.8M392.4 272.9h6.8M395.8 269.5v6.8M263.59 300.1h6.8M266.99 296.7v6.8M215.42 345.86h6.8M218.82 342.46v6.8M471.35 249.37h6.8M474.75 245.97v6.8M318.28 286.09h6.8M321.68 282.69v6.8M224.45 330.98h6.8M227.85 327.58v6.8M486.54 245.12h6.8M489.94 241.72v6.8M176.29 342.62h6.8M179.69 339.22v6.8M406.95 273.82h6.8M410.35 270.42v6.8M272.71 307.98h6.8M276.11 304.58v6.8M152.21 375.4h6.8M155.61 372v6.8M368.39 277.29h6.8M371.79 273.89v6.8M248.54 296.93h6.8M251.94 293.53v6.8M527.67 241.23h6.8M531.07 237.83v6.8M200.37 333.3h6.8M203.77 329.9v6.8M446.32 251.71h6.8M449.72 248.31v6.8M299.31 314.04h6.8M302.71 310.64v6.8M349.39 291.2h6.8M352.79 287.8v6.8M236.49 317.93h6.8M239.89 314.53v6.8M506.98 242.03h6.8M510.38 238.63v6.8M188.33 351.59h6.8M191.73 348.19v6.8M426.53 250.68h6.8M429.93 247.28v6.8M285.53 286.33h6.8M288.93 282.93v6.8M164.25 358.54h6.8M167.65 355.14v6.8M387.57 253.56h6.8M390.97 250.16v6.8M212.41 312.21h6.8M215.81 308.81v6.8M466.32 251.86h6.8M469.72 248.46v6.8M314.3 279.42h6.8M317.7 276.02v6.8M339.97 289.67h6.8M343.37 286.27v6.8M230.47 308.89h6.8M233.87 305.49v6.8M496.73 245.75h6.8M500.13 242.35v6.8M182.31 346.83h6.8M185.71 343.43v6.8M416.72 255.93h6.8M420.12 252.53v6.8M279.01 310.01h6.8M282.41 306.61v6.8M158.23 351.87h6.8M161.63 348.47v6.8M377.96 281.3h6.8M381.36 277.9v6.8M254.56 313.78h6.8M257.96 310.38v6.8M206.39 347.02h6.8M209.79 343.62v6.8M456.29 247.27h6.8M459.69 243.87v6.8M306.64 272.68h6.8M310.04 269.28v6.8M146.19 362.79h6.8M149.59 359.39v6.8M358.87 274.27h6.8M362.27 270.87v6.8M242.51 333.79h6.8M245.91 330.39v6.8M194.35 325.46h6.8M197.75 322.06v6.8M436.4 261.08h6.8M439.8 257.68v6.8M292.29 291.33h6.8M295.69 287.93v6.8M170.27 358.87h6.8M173.67 355.47v6.8M266.6 295.85h6.8M270 292.45v6.8M218.43 332.11h6.8M221.83 328.71v6.8M476.4 242.68h6.8M479.8 239.28v6.8M322.36 301.93h6.8M325.76 298.53v6.8M328.71 289.44h6.8M332.11 286.04v6.8M222.95 320.56h6.8M226.35 317.16v6.8M484 245.06h6.8M487.4 241.66v6.8M174.78 366.42h6.8M178.18 363.02v6.8M404.52 266.78h6.8M407.92 263.38v6.8M271.16 288.8h6.8M274.56 285.4v6.8M150.7 363.05h6.8M154.1 359.65v6.8M366.01 268.61h6.8M369.41 265.21v6.8M247.03 321.8h6.8M250.43 318.4v6.8M525.07 240.99h6.8M528.47 237.59v6.8M198.87 326.34h6.8M202.27 322.94v6.8M443.83 260.72h6.8M447.23 257.32v6.8M297.53 304.15h6.8M300.93 300.75v6.8M347.03 271.43h6.8M350.43 268.03v6.8M504.42 244.22h6.8M507.82 240.82v6.8M186.82 337.04h6.8M190.22 333.64v6.8M424.07 249.88h6.8M427.47 246.48v6.8M283.88 320.41h6.8M287.28 317.01v6.8M162.74 347h6.8M166.14 343.6v6.8M385.17 279.15h6.8M388.57 275.75v6.8M259.07 308.84h6.8M262.47 305.44v6.8M210.91 341.76h6.8M214.31 338.36v6.8M463.81 249.62h6.8M467.21 246.22v6.8M312.35 291.78h6.8M315.75 288.38v6.8M337.64 280.17h6.8M341.04 276.77v6.8M228.97 336.63h6.8M232.37 333.23v6.8M494.18 244.9h6.8M497.58 241.5v6.8M180.8 331.21h6.8M184.2 327.81v6.8M277.42 294.83h6.8M280.82 291.43v6.8M156.72 374.36h6.8M160.12 370.96v6.8M375.56 267.13h6.8M378.96 263.73v6.8M253.05 296h6.8M256.45 292.6v6.8M204.89 332.18h6.8M208.29 328.78v6.8M453.79 248.09h6.8M457.19 244.69v6.8M304.77 296.19h6.8M308.17 292.79v6.8M144.68 361.45h6.8M148.08 358.05v6.8M356.5 292.15h6.8M359.9 288.75v6.8M241.01 321.55h6.8M244.41 318.15v6.8M514.71 241.09h6.8M518.11 237.69v6.8M192.84 355.15h6.8M196.24 351.75v6.8M433.93 257.52h6.8M437.33 254.12v6.8M290.58 279.2h6.8M293.98 275.8v6.8M168.76 350.25h6.8M172.16 346.85v6.8M394.82 254.48h6.8M398.22 251.08v6.8M265.09 325.59h6.8M268.49 322.19v6.8M216.93 314.3h6.8M220.33 310.9v6.8M473.87 249.48h6.8M477.27 246.08v6.8M333.1 286.12h6.8M336.5 282.72v6.8M225.96 312.33h6.8M229.36 308.93v6.8M489.08 247.75h6.8M492.48 244.35v6.8M409.39 258.06h6.8M412.79 254.66v6.8M274.26 313.7h6.8M277.66 310.3v6.8M153.71 379.43h6.8M157.11 376.03v6.8M370.78 279.4h6.8M374.18 276v6.8M250.04 304.91h6.8M253.44 301.51v6.8M530.27 241.01h6.8M533.67 237.61v6.8M201.88 355.45h6.8M205.28 352.05v6.8M448.81 250.63h6.8M452.21 247.23v6.8M301.11 294.06h6.8M304.51 290.66v6.8M351.76 260.2h6.8M355.16 256.8v6.8M238 327.58h6.8M241.4 324.18v6.8M509.56 242.56h6.8M512.96 239.16v6.8M189.83 332.56h6.8M193.23 329.16v6.8M428.99 265.85h6.8M432.39 262.45v6.8M287.2 298.87h6.8M290.6 295.47v6.8M165.75 366.19h6.8M169.15 362.79v6.8M389.99 269.01h6.8M393.39 265.61v6.8M262.08 288.89h6.8M265.48 285.49v6.8M213.92 323.58h6.8M217.32 320.18v6.8M468.83 247.06h6.8M472.23 243.66v6.8M316.28 305.27h6.8M319.68 301.87v6.8M342.32 285.95h6.8M345.72 282.55v6.8M231.98 317.4h6.8M235.38 314v6.8M499.29 247.55h6.8M502.69 244.15v6.8M183.81 351.17h6.8M187.21 347.77v6.8M419.17 250.91h6.8M422.57 247.51v6.8M280.62 291h6.8M284.02 287.6v6.8M159.73 363.73h6.8M163.13 360.33v6.8M380.36 267.23h6.8M383.76 263.83v6.8M256.06 326.56h6.8M259.46 323.16v6.8M207.9 317.2h6.8M211.3 313.8v6.8M458.79 254.68h6.8M462.19 251.28v6.8M308.52 296.79h6.8M311.92 293.39v6.8M361.24 281.45h6.8M364.64 278.05v6.8M244.02 301.62h6.8M247.42 298.22v6.8M519.88 242.13h6.8M523.28 238.73v6.8M195.86 338.74h6.8M199.26 335.34v6.8M438.87 245.13h6.8M442.27 241.73v6.8M171.77 342.88h6.8M175.17 339.48v6.8M399.66 272.85h6.8M403.06 269.45v6.8M268.11 306.75h6.8M271.51 303.35v6.8M219.94 339.44h6.8M223.34 336.04v6.8M478.93 247.19h6.8M482.33 243.79v6.8M324.45 266.59h6.8M327.85 263.19v6.8M326.03 287.28h6.8M329.43 283.88v6.8M221.07 347.57h6.8M224.47 344.17v6.8M480.83 245.53h6.8M484.23 242.13v6.8M172.9 340.58h6.8M176.3 337.18v6.8M401.48 273.48h6.8M404.88 270.08v6.8M269.25 304.1h6.8M272.65 300.7v6.8M148.82 373.01h6.8M152.22 369.61v6.8M245.15 304.65h6.8M248.55 301.25v6.8M521.83 242.65h6.8M525.23 239.25v6.8M196.98 342.13h6.8M200.38 338.73v6.8M440.73 245.75h6.8M444.13 242.35v6.8M295.33 307.07h6.8M298.73 303.67v6.8M344.08 290.05h6.8M347.48 286.65v6.8M233.11 314.65h6.8M236.51 311.25v6.8M501.21 241.53h6.8M504.61 238.13v6.8M184.94 360.77h6.8M188.34 357.37v6.8M421 261.63h6.8M424.4 258.23v6.8M281.84 283.83h6.8M285.24 280.43v6.8M160.86 356.34h6.8M164.26 352.94v6.8M382.16 283.94h6.8M385.56 280.54v6.8M257.19 316.13h6.8M260.59 312.73v6.8M209.03 323.61h6.8M212.43 320.21v6.8M460.67 256.38h6.8M464.07 252.98v6.8M309.94 301.05h6.8M313.34 297.65v6.8M334.78 278.11h6.8M338.18 274.71v6.8M490.99 247.09h6.8M494.39 243.69v6.8M178.92 344.24h6.8M182.32 340.84v6.8M411.22 259.52h6.8M414.62 256.12v6.8M275.44 320.83h6.8M278.84 317.43v6.8M372.57 282.19h6.8M375.97 278.79v6.8M251.17 310.1h6.8M254.57 306.7v6.8M532.22 240.9h6.8M535.62 237.5v6.8M203 343.24h6.8M206.4 339.84v6.8M450.67 251.73h6.8M454.07 248.33v6.8M302.48 294.46h6.8M305.88 291.06v6.8M353.53 260.7h6.8M356.93 257.3v6.8M239.13 329.18h6.8M242.53 325.78v6.8M511.49 242.48h6.8M514.89 239.08v6.8M190.96 362.58h6.8M194.36 359.18v6.8M430.84 255.41h6.8M434.24 252.01v6.8M288.46 288.31h6.8M291.86 284.91v6.8M166.88 372.55h6.8M170.28 369.15v6.8M391.8 271.92h6.8M395.2 268.52v6.8M263.21 294.18h6.8M266.61 290.78v6.8M215.05 330.05h6.8M218.45 326.65v6.8M470.72 246.02h6.8M474.12 242.62v6.8M317.78 301.36h6.8M321.18 297.96v6.8M224.08 328.71h6.8M227.48 325.31v6.8M485.9 244.4h6.8M489.3 241v6.8M175.91 362.25h6.8M179.31 358.85v6.8M406.34 257.03h6.8M409.74 253.63v6.8M272.32 285.53h6.8M275.72 282.13v6.8M151.83 359.63h6.8M155.23 356.23v6.8M367.79 260.11h6.8M371.19 256.71v6.8M248.16 331.84h6.8M251.56 328.44v6.8M527.02 241.33h6.8M530.42 237.93v6.8M199.99 322.65h6.8M203.39 319.25v6.8M445.7 258.66h6.8M449.1 255.26v6.8M298.87 289.18h6.8M302.27 285.78v6.8M348.8 280.05h6.8M352.2 276.65v6.8M236.12 310.17h6.8M239.52 306.77v6.8M506.34 245.46h6.8M509.74 242.06v6.8M425.92 255.13h6.8M429.32 251.73v6.8M285.12 313.09h6.8M288.52 309.69v6.8M163.87 342.57h6.8M167.27 339.17v6.8M386.97 269.96h6.8M390.37 266.56v6.8M260.2 303.32h6.8M263.6 299.92v6.8M212.04 349.63h6.8M215.44 346.23v6.8M465.69 247.3h6.8M469.09 243.9v6.8M313.81 273.37h6.8M317.21 269.97v6.8M339.38 277.29h6.8M342.78 273.89v6.8M230.1 330.28h6.8M233.5 326.88v6.8M496.09 242.17h6.8M499.49 238.77v6.8M181.93 336.33h6.8M185.33 332.93v6.8M416.11 269.45h6.8M419.51 266.05v6.8M278.61 301.5h6.8M282.01 298.1v6.8M157.85 369.4h6.8M161.25 366v6.8M377.36 272.54h6.8M380.76 269.14v6.8M254.18 334.69h6.8M257.58 331.29v6.8M206.01 326.91h6.8M209.41 323.51v6.8M306.17 311.56h6.8M309.57 308.16v6.8M145.81 357.25h6.8M149.21 353.85v6.8M358.28 283.88h6.8M361.68 280.48v6.8M242.14 315.7h6.8M245.54 312.3v6.8M193.97 349.26h6.8M197.37 345.86v6.8M435.78 255.43h6.8M439.18 252.03v6.8M291.86 284.26h6.8M295.26 280.86v6.8M169.89 355.82h6.8M173.29 352.42v6.8M396.63 261.66h6.8M400.03 258.26v6.8M266.22 318.61h6.8M269.62 315.21v6.8M218.06 309.61h6.8M221.46 306.21v6.8M475.77 249.86h6.8M479.17 246.46v6.8M321.85 290.11h6.8M325.25 286.71v6.8M328.17 281.67h6.8M331.57 278.27v6.8M222.57 309.78h6.8M225.97 306.38v6.8M483.36 248.97h6.8M486.76 245.57v6.8M174.41 347.97h6.8M177.81 344.57v6.8M403.91 275.4h6.8M407.31 272v6.8M270.78 309.33h6.8M274.18 305.93v6.8M150.32 358.17h6.8M153.72 354.77v6.8M365.41 289.14h6.8M368.81 285.74v6.8M246.65 319.41h6.8M250.05 316.01v6.8M524.42 240.95h6.8M527.82 237.55v6.8M443.21 255.37h6.8M446.61 251.97v6.8M297.09 293.82h6.8M300.49 290.42v6.8M346.44 279.28h6.8M349.84 275.88v6.8M234.61 339.69h6.8M238.01 336.29v6.8M503.77 244.04h6.8M507.17 240.64v6.8M186.45 331.47h6.8M189.85 328.07v6.8M423.46 262.23h6.8M426.86 258.83v6.8M283.47 296.68h6.8M286.87 293.28v6.8M162.37 364.67h6.8M165.77 361.27v6.8M384.56 259.41h6.8M387.96 256.01v6.8M258.69 297.3h6.8M262.09 293.9v6.8M210.53 333.73h6.8M213.93 330.33v6.8M463.18 247.36h6.8M466.58 243.96v6.8M311.87 298.68h6.8M315.27 295.28v6.8M337.06 291.85h6.8M340.46 288.45v6.8M228.59 315.59h6.8M231.99 312.19v6.8M493.54 242.06h6.8M496.94 238.66v6.8M180.43 365.72h6.8M183.83 362.32v6.8M277.02 287.87h6.8M280.42 284.47v6.8M156.35 361.15h6.8M159.75 357.75v6.8M374.96 255.15h6.8M378.36 251.75v6.8M252.67 321.34h6.8M256.07 317.94v6.8M534.83 240.91h6.8M538.23 237.51v6.8M204.51 324.82h6.8M207.91 321.42v6.8M453.17 257.36h6.8M456.57 253.96v6.8M304.31 292.45h6.8M307.71 289.05v6.8M144.3 377.58h6.8M147.7 374.18v6.8M355.9 280.38h6.8M359.3 276.98v6.8M240.63 298.76h6.8M244.03 295.36v6.8M514.07 242.12h6.8M517.47 238.72v6.8M192.47 335.52h6.8M195.87 332.12v6.8M433.31 253.87h6.8M436.71 250.47v6.8M290.15 312.77h6.8M293.55 309.37v6.8M394.21 274h6.8M397.61 270.6v6.8M264.72 302.65h6.8M268.12 299.25v6.8M216.55 334.99h6.8M219.95 331.59v6.8M473.24 243.75h6.8M476.64 240.35v6.8M332.54 268.06h6.8M335.94 264.66v6.8M225.58 338.77h6.8M228.98 335.37v6.8M488.44 245.87h6.8M491.84 242.47v6.8M177.42 333.61h6.8M180.82 330.21v6.8M408.78 268.27h6.8M412.18 264.87v6.8M273.87 296.74h6.8M277.27 293.34v6.8M153.33 376.41h6.8M156.73 373.01v6.8M370.18 277.64h6.8M373.58 274.24v6.8M249.66 297.89h6.8M253.06 294.49v6.8M529.62 241.17h6.8M533.02 237.77v6.8M201.5 334.41h6.8M204.9 331.01v6.8M448.18 249.1h6.8M451.58 245.7v6.8M300.66 306.51h6.8M304.06 303.11v6.8M237.62 319.26h6.8M241.02 315.86v6.8M508.91 241.97h6.8M512.31 238.57v6.8M189.46 352.9h6.8M192.86 349.5v6.8M428.38 251.09h6.8M431.78 247.69v6.8M286.78 319.85h6.8M290.18 316.45v6.8M165.38 349.3h6.8M168.78 345.9v6.8M389.38 266.49h6.8M392.78 263.09v6.8M261.71 330.38h6.8M265.11 326.98v6.8M213.54 318.15h6.8M216.94 314.75v6.8M468.2 253.87h6.8M471.6 250.47v6.8M315.78 296.64h6.8M319.18 293.24v6.8M341.73 284.27h6.8M345.13 280.87v6.8M231.6 311.68h6.8M235 308.28v6.8M498.65 247.32h6.8M502.05 243.92v6.8M183.44 349.77h6.8M186.84 346.37v6.8M418.55 248.84h6.8M421.95 245.44v6.8M280.22 314.19h6.8M283.62 310.79v6.8M159.36 344.94h6.8M162.76 341.54v6.8M379.76 271.49h6.8M383.16 268.09v6.8M207.52 350.84h6.8M210.92 347.44v6.8M458.17 252.46h6.8M461.57 249.06v6.8M308.05 274.77h6.8M311.45 271.37v6.8M360.65 270.11h6.8M364.05 266.71v6.8M243.64 323.03h6.8M247.04 319.63v6.8M519.24 241.11h6.8M522.64 237.71v6.8M195.48 331.51h6.8M198.88 328.11v6.8M438.25 264.19h6.8M441.65 260.79v6.8M293.59 308.1h6.8M296.99 304.7v6.8M171.4 365.7h6.8M174.8 362.3v6.8M399.06 259.57h6.8M402.46 256.17v6.8M267.73 288.38h6.8M271.13 284.98v6.8M219.56 322.97h6.8M222.96 319.57v6.8M478.3 242.96h6.8M481.7 239.56v6.8M323.92 301.75h6.8M327.32 298.35v6.8M327.1 299.53h6.8M330.5 296.13v6.8M221.82 324.83h6.8M225.22 321.43v6.8M482.09 241.93h6.8M485.49 238.53v6.8M173.65 358.71h6.8M177.05 355.31v6.8M402.7 263.71h6.8M406.1 260.31v6.8M270.01 292.37h6.8M273.41 288.97v6.8M149.57 366.62h6.8M152.97 363.22v6.8M245.9 326.78h6.8M249.3 323.38v6.8M523.12 241.49h6.8M526.52 238.09v6.8M197.74 320.02h6.8M201.14 316.62v6.8M441.97 253.26h6.8M445.37 249.86v6.8M296.21 299.8h6.8M299.61 296.4v6.8M345.26 278.89h6.8M348.66 275.49v6.8M233.86 306.98h6.8M237.26 303.58v6.8M502.49 245.71h6.8M505.89 242.31v6.8M185.7 344.73h6.8M189.1 341.33v6.8M422.23 254.61h6.8M425.63 251.21v6.8M282.65 308.09h6.8M286.05 304.69v6.8M161.61 349.54h6.8M165.01 346.14v6.8M383.36 281.27h6.8M386.76 277.87v6.8M257.94 311.92h6.8M261.34 308.52v6.8M461.92 250.57h6.8M465.32 247.17v6.8M310.9 287.4h6.8M314.3 284v6.8M335.92 268.34h6.8M339.32 264.94v6.8M492.26 245.55h6.8M495.66 242.15v6.8M179.67 333.77h6.8M183.07 330.37v6.8M412.44 263.55h6.8M415.84 260.15v6.8M276.23 297.62h6.8M279.63 294.22v6.8M155.59 366.5h6.8M158.99 363.1v6.8M373.77 271.44h6.8M377.17 268.04v6.8M251.92 303.3h6.8M255.32 299.9v6.8M533.53 241.1h6.8M536.93 237.7v6.8M203.76 340.63h6.8M207.16 337.23v6.8M451.92 249.92h6.8M455.32 246.52v6.8M303.39 310.27h6.8M306.79 306.87v6.8M354.72 287.33h6.8M358.12 283.93v6.8M239.88 313.28h6.8M243.28 309.88v6.8M512.78 242h6.8M516.18 238.6v6.8M191.72 359.85h6.8M195.12 356.45v6.8M289.3 282.48h6.8M292.7 279.08v6.8M167.63 354.07h6.8M171.03 350.67v6.8M393 251.41h6.8M396.4 248.01v6.8M263.96 315.38h6.8M267.36 311.98v6.8M215.8 318.16h6.8M219.2 314.76v6.8M471.98 253.35h6.8M475.38 249.95v6.8M318.78 286.16h6.8M322.18 282.76v6.8M331.44 288.78h6.8M334.84 285.38v6.8M224.83 305.83h6.8M228.23 302.43v6.8M487.17 245.16h6.8M490.57 241.76v6.8M176.66 343.72h6.8M180.06 340.32v6.8M407.56 261.16h6.8M410.96 257.76v6.8M273.1 324.54h6.8M276.5 321.14v6.8M152.58 353.24h6.8M155.98 349.84v6.8M368.99 280.81h6.8M372.39 277.41v6.8M248.91 313.16h6.8M252.31 309.76v6.8M528.32 241.01h6.8M531.72 237.61v6.8M200.75 346.47h6.8M204.15 343.07v6.8M446.94 247.72h6.8M450.34 244.32v6.8M349.98 275.82h6.8M353.38 272.42v6.8M236.87 332.59h6.8M240.27 329.19v6.8M507.63 241.83h6.8M511.03 238.43v6.8M427.15 262.42h6.8M430.55 259.02v6.8M285.95 291.06h6.8M289.35 287.66v6.8M164.62 370.26h6.8M168.02 366.86v6.8M388.18 271.35h6.8M391.58 267.95v6.8M260.95 292.3h6.8M264.35 288.9v6.8M212.79 327.76h6.8M216.19 324.36v6.8M466.95 256.2h6.8M470.35 252.8v6.8M314.79 300.33h6.8M318.19 296.93v6.8M340.55 296.46h6.8M343.95 293.06v6.8M230.85 326.06h6.8M234.25 322.66v6.8M497.37 243.16h6.8M500.77 239.76v6.8M182.69 359.61h6.8M186.09 356.21v6.8M417.33 261.8h6.8M420.73 258.4v6.8M279.41 283.19h6.8M282.81 279.79v6.8M158.6 355.99h6.8M162 352.59v6.8M378.56 268.57h6.8M381.96 265.17v6.8M254.93 329.63h6.8M258.33 326.23v6.8M206.77 319.44h6.8M210.17 316.04v6.8M307.1 298.48h6.8M310.5 295.08v6.8M146.56 372.56h6.8M149.96 369.16v6.8M359.46 265.52h6.8M362.86 262.12v6.8M242.89 303.84h6.8M246.29 300.44v6.8M517.94 243.09h6.8M521.34 239.69v6.8M194.73 341.24h6.8M198.13 337.84v6.8M437.02 245.72h6.8M440.42 242.32v6.8M292.72 305.52h6.8M296.12 302.12v6.8M170.64 371.45h6.8M174.04 368.05v6.8M397.84 270.3h6.8M401.24 266.9v6.8M266.97 297.1h6.8M270.37 293.7v6.8M218.81 348.93h6.8M222.21 345.53v6.8M477.03 249.08h6.8M480.43 245.68v6.8M322.88 286.24h6.8M326.28 282.84v6.8M329.25 281.71h6.8M332.65 278.31v6.8M223.32 335.76h6.8M226.72 332.36v6.8M484.63 245.94h6.8M488.03 242.54v6.8M175.16 341.91h6.8M178.56 338.51v6.8M405.13 272.5h6.8M408.53 269.1v6.8M151.08 374.56h6.8M154.48 371.16v6.8M366.6 267.39h6.8M370 263.99v6.8M247.41 296.12h6.8M250.81 292.72v6.8M525.72 241.62h6.8M529.12 238.22v6.8M199.24 332.36h6.8M202.64 328.96v6.8M444.45 251.68h6.8M447.85 248.28v6.8M297.97 310.34h6.8M301.37 306.94v6.8M347.62 290.8h6.8M351.02 287.4v6.8M235.37 316.8h6.8M238.77 313.4v6.8M505.06 241.15h6.8M508.46 237.75v6.8M187.2 350.49h6.8M190.6 347.09v6.8M424.69 257.43h6.8M428.09 254.03v6.8M284.29 288.86h6.8M287.69 285.46v6.8M163.12 361.24h6.8M166.52 357.84v6.8M259.45 324.08h6.8M262.85 320.68v6.8M211.28 314.76h6.8M214.68 311.36v6.8M464.43 249.96h6.8M467.83 246.56v6.8M312.84 282h6.8M316.24 278.6v6.8M338.22 289.35h6.8M341.62 285.95v6.8M229.34 308.03h6.8M232.74 304.63v6.8M494.82 245.55h6.8M498.22 242.15v6.8M181.18 345.93h6.8M184.58 342.53v6.8M414.88 255.88h6.8M418.28 252.48v6.8M277.81 308.55h6.8M281.21 305.15v6.8M157.1 351.34h6.8M160.5 347.94v6.8M376.16 282.97h6.8M379.56 279.57v6.8M253.43 312.51h6.8M256.83 309.11v6.8M536.14 240.9h6.8M539.54 237.5v6.8M205.26 345.71h6.8M208.66 342.31v6.8M454.42 247.04h6.8M457.82 243.64v6.8M305.24 313.34h6.8M308.64 309.94v6.8M145.06 362.31h6.8M148.46 358.91v6.8M357.09 264.06h6.8M360.49 260.66v6.8M515.36 242.55h6.8M518.76 239.15v6.8M193.22 328.1h6.8M196.62 324.7v6.8M434.54 262.7h6.8M437.94 259.3v6.8M291 294.2h6.8M294.4 290.8v6.8M395.42 266.07h6.8M398.82 262.67v6.8M265.47 294.88h6.8M268.87 291.48v6.8M217.3 330.92h6.8M220.7 327.52v6.8M474.5 245.76h6.8M477.9 242.36v6.8M320.82 301.44h6.8M324.22 298.04v6.8M333.66 285.78h6.8M337.06 282.38v6.8M226.33 317.28h6.8M229.73 313.88v6.8M489.72 244.14h6.8M493.12 240.74v6.8M178.17 363.14h6.8M181.57 359.74v6.8M410 257.34h6.8M413.4 253.94v6.8M274.66 286.08h6.8M278.06 282.68v6.8M154.09 359.75h6.8M157.49 356.35v6.8M371.37 287.35h6.8M374.77 283.95v6.8M250.42 318.35h6.8M253.82 314.95v6.8M202.25 328.2h6.8M205.65 324.8v6.8M449.43 260.99h6.8M452.83 257.59v6.8M301.57 305.09h6.8M304.97 301.69v6.8M352.35 282.92h6.8M355.75 279.52v6.8M238.38 301.77h6.8M241.78 298.37v6.8M510.2 243.81h6.8M513.6 240.41v6.8M190.21 338.95h6.8M193.61 335.55v6.8M429.61 248.59h6.8M433.01 245.19v6.8M287.62 317.14h6.8M291.02 313.74v6.8M166.13 343.97h6.8M169.53 340.57v6.8M390.59 272.55h6.8M393.99 269.15v6.8M262.46 306.08h6.8M265.86 302.68v6.8M214.29 338.75h6.8M217.69 335.35v6.8M469.46 248.3h6.8M472.86 244.9v6.8M316.78 275.09h6.8M320.18 271.69v6.8M342.91 277.79h6.8M346.31 274.39v6.8M232.35 333.6h6.8M235.75 330.2v6.8M499.93 242.26h6.8M503.33 238.86v6.8M419.78 264.16h6.8M423.18 260.76v6.8M281.03 292.23h6.8M284.43 288.83v6.8M160.11 375.37h6.8M163.51 371.97v6.8M380.96 267.89h6.8M384.36 264.49v6.8M208.27 333.22h6.8M211.67 329.82v6.8M459.42 243.45h6.8M462.82 240.05v6.8M308.99 297.82h6.8M312.39 294.42v6.8M148.07 358.42h6.8M151.47 355.02v6.8M361.84 289.34h6.8M365.24 285.94v6.8M244.4 318.64h6.8M247.8 315.24v6.8M520.53 240.98h6.8M523.93 237.58v6.8M196.23 352.17h6.8M199.63 348.77v6.8M439.49 255.73h6.8M442.89 252.33v6.8M294.45 294.05h6.8M297.85 290.65v6.8M172.15 347.28h6.8M175.55 343.88v6.8M400.27 262.03h6.8M403.67 258.63v6.8M268.49 322.5h6.8M271.89 319.1v6.8M220.31 311.53h6.8M223.71 308.13v6.8M324.97 291h6.8M328.37 287.6v6.8M325.77 275.2h6.8M329.17 271.8v6.8M220.88 317.47h6.8M224.28 314.07v6.8M172.71 355.86h6.8M176.11 352.46v6.8M401.18 261.07h6.8M404.58 257.67v6.8M269.06 319.58h6.8M272.46 316.18v6.8M148.63 352.37h6.8M152.03 348.97v6.8M362.73 283.88h6.8M366.13 280.48v6.8M244.96 310h6.8M248.36 306.6v6.8M521.5 241.01h6.8M524.9 237.61v6.8M196.8 356.45h6.8M200.2 353.05v6.8M440.42 256.88h6.8M443.82 253.48v6.8M295.11 295.85h6.8M298.51 292.45v6.8M343.79 261.58h6.8M347.19 258.18v6.8M232.92 328.59h6.8M236.32 325.19v6.8M500.89 243.42h6.8M504.29 240.02v6.8M184.75 334.44h6.8M188.15 331.04v6.8M420.7 265.22h6.8M424.1 261.82v6.8M160.67 367.68h6.8M164.07 364.28v6.8M381.86 270.97h6.8M385.26 267.57v6.8M257 333.05h6.8M260.4 329.65v6.8M460.36 249.31h6.8M463.76 245.91v6.8M309.71 310.87h6.8M313.11 307.47v6.8M334.5 297.86h6.8M337.9 294.46v6.8M226.9 324.15h6.8M230.3 320.75v6.8M490.67 243.56h6.8M494.07 240.16v6.8M178.73 357.88h6.8M182.13 354.48v6.8M410.91 254.38h6.8M414.31 250.98v6.8M275.24 291.75h6.8M278.64 288.35v6.8M154.65 365.16h6.8M158.05 361.76v6.8M372.27 257.47h6.8M375.67 254.07v6.8M250.98 326.71h6.8M254.38 323.31v6.8M531.9 241.01h6.8M535.3 237.61v6.8M202.82 318.62h6.8M206.22 315.22v6.8M450.36 256.26h6.8M453.76 252.86v6.8M302.25 285.12h6.8M305.65 281.72v6.8M353.24 283.36h6.8M356.64 279.96v6.8M238.94 302.62h6.8M242.34 299.22v6.8M511.17 242.93h6.8M514.57 239.53v6.8M190.78 339.9h6.8M194.18 336.5v6.8M288.25 303.09h6.8M291.65 299.69v6.8M166.69 347.86h6.8M170.09 344.46v6.8M391.49 278.45h6.8M394.89 275.05v6.8M263.02 311.64h6.8M266.42 308.24v6.8M214.86 344.69h6.8M218.26 341.29v6.8M470.41 245.7h6.8M473.81 242.3v6.8M317.53 270.16h6.8M320.93 266.76v6.8M330.07 284.94h6.8M333.47 281.54v6.8M223.89 344.19h6.8M227.29 340.79v6.8M485.58 244.49h6.8M488.98 241.09v6.8M175.72 337.57h6.8M179.12 334.17v6.8M406.04 271.08h6.8M409.44 267.68v6.8M272.13 301.16h6.8M275.53 297.76v6.8M367.5 274.29h6.8M370.9 270.89v6.8M247.97 301.87h6.8M251.37 298.47v6.8M526.69 241.83h6.8M530.09 238.43v6.8M199.81 338.99h6.8M203.21 335.59v6.8M445.39 244.91h6.8M448.79 241.51v6.8M298.64 309.79h6.8M302.04 306.39v6.8M348.51 279.57h6.8M351.91 276.17v6.8M235.93 311.71h6.8M239.33 308.31v6.8M506.02 242.62h6.8M509.42 239.22v6.8M187.76 362.12h6.8M191.16 358.72v6.8M425.61 261.33h6.8M429.01 257.93v6.8M284.91 284.51h6.8M288.31 281.11v6.8M163.68 356.69h6.8M167.08 353.29v6.8M386.67 263.27h6.8M390.07 259.87v6.8M260.01 317.68h6.8M263.41 314.28v6.8M211.85 320.63h6.8M215.25 317.23v6.8M465.37 255.27h6.8M468.77 251.87v6.8M313.57 298.59h6.8M316.97 295.19v6.8M229.91 303.66h6.8M233.31 300.26v6.8M495.77 245.88h6.8M499.17 242.48v6.8M181.74 341.21h6.8M185.14 337.81v6.8M415.8 249.86h6.8M419.2 246.46v6.8M278.41 317.32h6.8M281.81 313.92v6.8M157.66 347.34h6.8M161.06 343.94v6.8M377.06 279.64h6.8M380.46 276.24v6.8M253.99 307.15h6.8M257.39 303.75v6.8M205.83 340.05h6.8M209.23 336.65v6.8M455.35 250.38h6.8M458.75 246.98v6.8M305.94 295.11h6.8M309.34 291.71v6.8M145.62 371.33h6.8M149.02 367.93v6.8M357.98 274.02h6.8M361.38 270.62v6.8M241.95 332.51h6.8M245.35 329.11v6.8M516.33 242.21h6.8M519.73 238.81v6.8M193.79 324.79h6.8M197.19 321.39v6.8M435.47 256.73h6.8M438.87 253.33v6.8M291.64 303.47h6.8M295.04 300.07v6.8M169.7 369.61h6.8M173.1 366.21v6.8M396.33 262.46h6.8M399.73 259.06v6.8M217.87 326.94h6.8M221.27 323.54v6.8M475.45 245.17h6.8M478.85 241.77v6.8M321.59 291.34h6.8M324.99 287.94v6.8" stroke="#f00" stroke-width="0.8"/>
<path d="M49.5 434.6L51.95 432.86L54.4 431.13L56.85 429.4L59.3 427.68L61.75 425.97L64.2 424.27L66.65 422.57L69.1 420.88L71.55 419.19L74 417.52L76.46 415.85L78.91 414.18L81.36 412.53L83.81 410.88L86.26 409.24L88.71 407.6L91.16 405.98L93.61 404.36L96.06 402.74L98.51 401.14L100.96 399.54L103.41 397.95L105.86 396.36L108.31 394.79L110.76 393.22L113.21 391.65L115.66 390.1L118.11 388.55L120.56 387.01L123.02 385.47L125.47 383.94L127.92 382.42L130.37 380.91L132.82 379.41L135.27 377.91L137.72 376.42L140.17 374.93L142.62 373.46L145.07 371.99L147.52 370.53L149.97 369.07L152.42 367.62L154.87 366.18L157.32 364.75L159.77 363.33L162.22 361.91L164.67 360.5L167.12 359.09L169.57 357.7L172.03 356.31L174.48 354.93L176.93 353.55L179.38 352.19L181.83 350.83L184.28 349.48L186.73 348.13L189.18 346.8L191.63 345.47L194.08 344.15L196.53 342.83L198.98 341.52L201.43 340.22L203.88 338.93L206.33 337.65L208.78 336.37L211.23 335.1L213.68 333.84L216.13 332.59L218.58 331.34L221.03 330.1L223.49 328.87L225.94 327.65L228.39 326.43L230.84 325.22L233.29 324.02L235.74 322.83L238.19 321.64L240.64 320.47L243.09 319.3L245.54 318.13L247.99 316.98L250.44 315.83L252.89 314.69L255.34 313.56L257.79 312.44L260.24 311.32L262.69 310.21L265.14 309.11L267.59 308.02L270.05 306.94L272.5 305.86L274.95 304.79L277.4 303.73L279.85 302.68L282.3 301.63L284.75 300.59L287.2 299.57L289.65 298.54L292.1 297.53L294.55 296.53L297 295.53L299.45 294.54L301.9 293.56L304.35 292.58L306.8 291.62L309.25 290.66L311.7 289.71L314.15 288.77L316.6 287.84L319.06 286.92L321.51 286L323.96 285.09L326.41 284.19L328.86 283.3L331.31 282.42L333.76 281.54L336.21 280.68L338.66 279.82L341.11 278.97L343.56 278.13L346.01 277.29L348.46 276.47L350.91 275.65L353.36 274.84L355.81 274.04L358.26 273.25L360.71 272.47L363.16 271.69L365.61 270.93L368.06 270.17L370.52 269.42L372.97 268.68L375.42 267.95L377.87 267.23L380.32 266.52L382.77 265.81L385.22 265.12L387.67 264.43L390.12 263.75L392.57 263.08L395.02 262.42L397.47 261.77L399.92 261.12L402.37 260.49L404.82 259.86L407.27 259.25L409.72 258.64L412.17 258.04L414.62 257.45L417.08 256.87L419.53 256.3L421.98 255.74L424.43 255.19L426.88 254.65L429.33 254.11L431.78 253.59L434.23 253.08L436.68 252.57L439.13 252.08L441.58 251.59L444.03 251.11L446.48 250.65L448.93 250.19L451.38 249.74L453.83 249.31L456.28 248.88L458.73 248.46L461.18 248.05L463.63 247.66L466.09 247.27L468.54 246.89L470.99 246.53L473.44 246.17L475.89 245.82L478.34 245.49L480.79 245.16L483.24 244.85L485.69 244.54L488.14 244.25L490.59 243.97L493.04 243.7L495.49 243.44L497.94 243.19L500.39 242.95L502.84 242.73L505.29 242.52L507.74 242.31L510.19 242.12L512.64 241.95L515.1 241.78L517.55 241.63L520 241.49L522.45 241.36L524.9 241.25L527.35 241.15L529.8 241.07L532.25 241L534.7 240.95L537.15 240.91L539.6 240.9" fill="none" stroke="#000" stroke-width="2.9" stroke-dasharray="8 3.6"/>
<path d="M100.28 387.5h6.8M103.68 384.1v6.8M136.4 379.09h6.8M139.8 375.69v6.8M112.32 393.85h6.8M115.72 390.45v6.8M130.38 376.78h6.8M133.78 373.38v6.8M106.3 391.31h6.8M109.7 387.91v6.8M142.42 358h6.8M145.82 354.6v6.8M118.34 377.78h6.8M121.74 374.38v6.8M127.37 388.98h6.8M130.77 385.58v6.8M103.29 394.61h6.8M106.69 391.21v6.8M139.41 365.82h6.8M142.81 362.42v6.8M115.33 384.79h6.8M118.73 381.39v6.8M109.31 382.78h6.8M112.71 379.38v6.8M97.27 397.03h6.8M100.67 393.63v6.8M125.87 380.18h6.8M129.27 376.78v6.8M101.78 391.39h6.8M105.18 387.99v6.8M137.91 364.65h6.8M141.31 361.25v6.8M113.82 396.03h6.8M117.22 392.63v6.8M131.89 379.57h6.8M135.29 376.17v6.8M107.8 395.26h6.8M111.2 391.86v6.8M143.93 367.79h6.8M147.33 364.39v6.8M95.76 391.92h6.8M99.16 388.52v6.8M119.85 385.22h6.8M123.25 381.82v6.8M128.88 368.99h6.8M132.28 365.59v6.8M104.79 386.57h6.8M108.19 383.17v6.8M140.92 381.81h6.8M144.32 378.41v6.8M116.84 388.96h6.8M120.24 385.56v6.8M134.9 370.56h6.8M138.3 367.16v6.8M110.81 386.21h6.8M114.21 382.81v6.8M98.77 400.08h6.8M102.17 396.68v6.8M122.86 372.74h6.8M126.26 369.34v6.8M125.11 387.61h6.8M128.51 384.21v6.8M101.03 400.58h6.8M104.43 397.18v6.8M137.15 376.06h6.8M140.55 372.66v6.8M113.07 383.73h6.8M116.47 380.33v6.8M131.13 368.57h6.8M134.53 365.17v6.8M107.05 382.39h6.8M110.45 378.99v6.8M143.18 375.7h6.8M146.58 372.3v6.8M119.09 388.91h6.8M122.49 385.51v6.8M128.12 375.81h6.8M131.52 372.41v6.8M104.04 393.31h6.8M107.44 389.91v6.8M140.16 360.74h6.8M143.56 357.34v6.8M116.08 380.2h6.8M119.48 376.8v6.8M134.14 387.58h6.8M137.54 384.18v6.8M110.06 391.87h6.8M113.46 388.47v6.8M98.02 402.31h6.8M101.42 398.91v6.8M122.1 381.11h6.8M125.5 377.71v6.8M126.62 367.7h6.8M130.02 364.3v6.8M102.54 386.38h6.8M105.94 382.98v6.8M138.66 379.19h6.8M142.06 375.79v6.8M114.58 394.54h6.8M117.98 391.14v6.8M132.64 377.65h6.8M136.04 374.25v6.8M108.56 386.06h6.8M111.96 382.66v6.8M96.52 399.38h6.8M99.92 395.98v6.8M120.6 371.49h6.8M124 368.09v6.8M129.63 381.92h6.8M133.03 378.52v6.8M105.55 396.47h6.8M108.95 393.07v6.8M141.67 369.49h6.8M145.07 366.09v6.8M117.59 384.44h6.8M120.99 381.04v6.8M135.65 362.1h6.8M139.05 358.7v6.8M111.57 382.8h6.8M114.97 379.4v6.8M99.53 392.72h6.8M102.93 389.32v6.8M123.61 384.53h6.8M127.01 381.13v6.8M124.74 375.74h6.8M128.14 372.34v6.8M136.78 359.88h6.8M140.18 356.48v6.8M112.7 380.15h6.8M116.1 376.75v6.8M130.76 385.38h6.8M134.16 381.98v6.8M106.68 396.77h6.8M110.08 393.37v6.8M142.8 370.13h6.8M146.2 366.73v6.8M118.72 381.13h6.8M122.12 377.73v6.8M127.75 371.9h6.8M131.15 368.5v6.8M103.67 384.16h6.8M107.07 380.76v6.8M139.79 375.87h6.8M143.19 372.47v6.8M115.71 391.42h6.8M119.11 388.02v6.8M133.77 373.67h6.8M137.17 370.27v6.8M109.69 390.39h6.8M113.09 386.99v6.8M97.64 401.23h6.8M101.04 397.83v6.8M121.73 374.51h6.8M125.13 371.11v6.8M126.24 388.27h6.8M129.64 384.87v6.8M102.16 396.6h6.8M105.56 393.2v6.8M138.28 369.02h6.8M141.68 365.62v6.8M132.26 362.29h6.8M135.66 358.89v6.8M108.18 382.84h6.8M111.58 379.44v6.8M96.14 397.13h6.8M99.54 393.73v6.8M120.22 392.67h6.8M123.62 389.27v6.8M129.25 379.74h6.8M132.65 376.34v6.8M105.17 388.48h6.8M108.57 385.08v6.8M141.29 361.18h6.8M144.69 357.78v6.8M117.21 375.22h6.8M120.61 371.82v6.8M135.27 380.81h6.8M138.67 377.41v6.8M111.19 393.1h6.8M114.59 389.7v6.8M99.15 390.25h6.8M102.55 386.85v6.8M123.23 382.66h6.8M126.63 379.26v6.8M125.49 370.63h6.8M128.89 367.23v6.8M101.41 390.03h6.8M104.81 386.63v6.8M137.53 385.72h6.8M140.93 382.32v6.8M113.45 389.99h6.8M116.85 386.59v6.8M131.51 371.86h6.8M134.91 368.46v6.8M107.43 390.15h6.8M110.83 386.75v6.8M143.55 356.43h6.8M146.95 353.03v6.8M95.39 401.17h6.8M98.79 397.77v6.8M119.47 374.27h6.8M122.87 370.87v6.8M128.5 384.97h6.8M131.9 381.57v6.8M104.42 398.53h6.8M107.82 395.13v6.8M140.54 372.89h6.8M143.94 369.49v6.8M116.46 380.74h6.8M119.86 377.34v6.8M134.52 367.89h6.8M137.92 364.49v6.8M110.44 379.08h6.8M113.84 375.68v6.8M98.4 394.12h6.8M101.8 390.72v6.8M122.48 389.58h6.8M125.88 386.18v6.8M126.99 378.8h6.8M130.39 375.4v6.8M102.91 393.3h6.8M106.31 389.9v6.8M139.04 360.42h6.8M142.44 357.02v6.8M133.02 386.79h6.8M136.42 383.39v6.8M108.93 391.7h6.8M112.33 388.3v6.8M96.89 390.24h6.8M100.29 386.84v6.8M120.97 380.85h6.8M124.37 377.45v6.8M130.01 364.29h6.8M133.41 360.89v6.8M105.92 385.47h6.8M109.32 382.07v6.8M142.05 380.65h6.8M145.45 377.25v6.8M117.96 392.56h6.8M121.36 389.16v6.8M136.03 374.91h6.8M139.43 371.51v6.8M111.94 385.15h6.8M115.34 381.75v6.8M99.9 397.15h6.8M103.3 393.75v6.8M123.98 392.63h6.8M127.38 389.23v6.8M124.55 383.75h6.8M127.95 380.35v6.8M100.47 398.35h6.8M103.87 394.95v6.8M136.59 371.74h6.8M139.99 368.34v6.8M112.51 389.36h6.8M115.91 385.96v6.8M130.57 368.21h6.8M133.97 364.81v6.8M142.61 381.44h6.8M146.01 378.04v6.8M118.53 388.49h6.8M121.93 385.09v6.8M127.56 375.41h6.8M130.96 372.01v6.8M103.48 391.04h6.8M106.88 387.64v6.8M139.6 386.14h6.8M143 382.74v6.8M115.52 377.34h6.8M118.92 373.94v6.8M133.58 382.96h6.8M136.98 379.56v6.8M109.5 397.32h6.8M112.9 393.92v6.8M97.46 392.53h6.8M100.86 389.13v6.8M83.84 406.39h6.8M87.24 402.99v6.8M76.2 410.35h6.8M79.6 406.95v6.8M88.24 401.14h6.8M91.64 397.74v6.8M88.88 400.87h6.8M92.28 397.47v6.8M82.22 402.96h6.8M85.62 399.56v6.8M63.67 418.1h6.8M67.07 414.7v6.8M93.92 401h6.8M97.32 397.6v6.8M94.26 403.35h6.8M97.66 399.95v6.8M70.18 413.18h6.8M73.58 409.78v6.8M68.71 414.25h6.8M72.11 410.85v6.8M98.96 395.82h6.8M102.36 392.42v6.8M91.25 395.1h6.8M94.65 391.7v6.8M67.17 415.65h6.8M70.57 412.25v6.8M73.76 410.09h6.8M77.16 406.69v6.8M104 389.12h6.8M107.4 385.72v6.8M85.23 406.05h6.8M88.63 402.65v6.8M61.14 420.48h6.8M64.54 417.08v6.8M78.8 409.75h6.8M82.2 406.35v6.8M73.19 409.8h6.8M76.59 406.4v6.8M84.85 407.37h6.8M88.25 403.97v6.8M77.7 407.19h6.8M81.1 403.79v6.8M89.74 402.55h6.8M93.14 399.15v6.8M89.89 400.65h6.8M93.29 397.25v6.8M65.66 416.53h6.8M69.06 413.13v6.8M83.72 404.76h6.8M87.12 401.36v6.8M64.68 417.29h6.8M68.08 413.89v6.8M94.93 394.59h6.8M98.33 391.19v6.8M71.68 412.51h6.8M75.08 409.11v6.8M69.72 413.93h6.8M73.12 410.53v6.8M80.71 409.45h6.8M84.11 406.05v6.8M99.97 399.4h6.8M103.37 396v6.8M92.75 396.66h6.8M96.15 393.26v6.8M68.67 413.89h6.8M72.07 410.49v6.8M74.76 410.58h6.8M78.16 407.18v6.8M105.01 394.11h6.8M108.41 390.71v6.8M86.73 398.16h6.8M90.13 394.76v6.8M62.65 419.04h6.8M66.05 415.64v6.8M79.8 406.42h6.8M83.2 403.02v6.8M74.69 409.88h6.8M78.09 406.48v6.8M85.85 402.71h6.8M89.25 399.31v6.8M76.95 409.11h6.8M80.35 405.71v6.8M90.9 403.18h6.8M94.3 399.78v6.8M88.99 398.65h6.8M92.39 395.25v6.8M64.91 417.12h6.8M68.31 413.72v6.8M82.97 406.38h6.8M86.37 402.98v6.8M65.69 416.5h6.8M69.09 413.1v6.8M95.94 398.34h6.8M99.34 394.94v6.8M95.01 396.86h6.8M98.41 393.46v6.8M70.93 412.1h6.8M74.33 408.7v6.8M70.73 413.67h6.8M74.13 410.27v6.8M100.98 391.96h6.8M104.38 388.56v6.8M92 403.69h6.8M95.4 400.29v6.8M75.77 410.91h6.8M79.17 407.51v6.8M67.92 414.77h6.8M71.32 411.37v6.8M85.98 402.18h6.8M89.38 398.78v6.8M61.9 419.82h6.8M65.3 416.42v6.8M80.81 407.63h6.8M84.21 404.23v6.8M86.86 402.43h6.8M90.26 399.03v6.8M73.94 412.1h6.8M77.34 408.7v6.8M78.45 409.54h6.8M81.85 406.14v6.8M91.9 404.78h6.8M95.3 401.38v6.8M90.5 401.53h6.8M93.9 398.13v6.8M66.41 415.77h6.8M69.81 412.37v6.8M66.7 415.86h6.8M70.1 412.46v6.8M84.47 401.78h6.8M87.87 398.38v6.8M96.94 400.56h6.8M100.34 397.16v6.8M72.43 411.84h6.8M75.83 408.44v6.8M71.74 412.33h6.8M75.14 408.93v6.8M101.99 395.39h6.8M105.39 391.99v6.8M81.46 405.64h6.8M84.86 402.24v6.8M76.78 408.16h6.8M80.18 404.76v6.8M69.42 413.96h6.8M72.82 410.56v6.8M87.48 406.61h6.8M90.88 403.21v6.8M63.4 418.4h6.8M66.8 415v6.8M81.82 409.26h6.8M85.22 405.86v6.8M87.87 404.58h6.8M91.27 401.18v6.8M75.44 408.2h6.8M78.84 404.8v6.8M76.57 407.06h6.8M79.97 403.66v6.8M62.67 419.07h6.8M66.07 415.67v6.8M92.91 399.85h6.8M96.31 396.45v6.8M88.61 404.08h6.8M92.01 400.68v6.8M64.53 417.42h6.8M67.93 414.02v6.8M67.71 414.81h6.8M71.11 411.41v6.8M82.59 405.94h6.8M85.99 402.54v6.8M97.95 393.35h6.8M101.35 389.95v6.8M94.63 395.06h6.8M98.03 391.66v6.8M72.75 412.48h6.8M76.15 409.08v6.8M102.99 399.56h6.8M106.39 396.16v6.8M79.58 408.51h6.8M82.98 405.11v6.8M77.79 409.41h6.8M81.19 406.01v6.8M91.62 399.52h6.8M95.02 396.12v6.8M67.54 414.91h6.8M70.94 411.51v6.8M85.6 399.86h6.8M89 396.46v6.8M61.52 420.1h6.8M64.92 416.7v6.8M82.83 404.85h6.8M86.23 401.45v6.8M84.04 402.65h6.8M87.44 399.25v6.8M73.56 410.78h6.8M76.96 407.38v6.8M78.08 407.1h6.8M81.48 403.7v6.8M89.08 405.01h6.8M92.48 401.61v6.8M90.12 395.56h6.8M93.52 392.16v6.8M66.04 416.35h6.8M69.44 412.95v6.8M63.88 417.96h6.8M67.28 414.56v6.8M94.12 400.45h6.8M97.52 397.05v6.8M84.1 407.15h6.8M87.5 403.75v6.8M68.92 413.87h6.8M72.32 410.47v6.8M72.06 413.05h6.8M75.46 409.65v6.8M99.16 394.01h6.8M102.56 390.61v6.8M81.09 404.48h6.8M84.49 401.08v6.8M73.96 411.94h6.8M77.36 408.54v6.8M104.2 395.42h6.8M107.6 392.02v6.8M69.05 414.16h6.8M72.45 410.76v6.8M87.11 402.24h6.8M90.51 398.84v6.8M79 407.76h6.8M82.4 404.36v6.8M63.03 418.78h6.8M66.43 415.38v6.8M85.05 404.47h6.8M88.45 401.07v6.8M75.07 410.85h6.8M78.47 407.45v6.8M77.33 410.51h6.8M80.73 407.11v6.8M90.09 398.61h6.8M93.49 395.21v6.8M89.37 399.76h6.8M92.77 396.36v6.8M65.28 416.77h6.8M68.68 413.37v6.8M64.88 417.14h6.8M68.28 413.74v6.8M95.13 402.4h6.8M98.53 399v6.8M83.35 408.76h6.8M86.75 405.36v6.8M69.92 413.66h6.8M73.32 410.26v6.8M100.17 394.52h6.8M103.57 391.12v6.8M80.34 407.6h6.8M83.74 404.2v6.8M74.97 409.78h6.8M78.37 406.38v6.8M105.21 387.25h6.8M108.61 383.85v6.8M92.38 395.71h6.8M95.78 392.31v6.8M68.29 414.8h6.8M71.69 411.4v6.8M80.01 408.86h6.8M83.41 405.46v6.8M62.27 419.42h6.8M65.67 416.02v6.8M86.06 406.15h6.8M89.46 402.75v6.8M74.31 409.73h6.8M77.71 406.33v6.8M91.1 401.89h6.8M94.5 398.49v6.8M78.83 405.64h6.8M82.23 402.24v6.8M90.87 404.87h6.8M94.27 401.47v6.8M65.89 416.31h6.8M69.29 412.91v6.8M66.79 415.66h6.8M70.19 412.26v6.8M96.14 395.74h6.8M99.54 392.34v6.8M84.85 402.64h6.8M88.25 399.24v6.8M70.93 413.51h6.8M74.33 410.11v6.8M101.18 397.83h6.8M104.58 394.43v6.8M72.81 412.48h6.8M76.21 409.08v6.8M81.84 407.78h6.8M85.24 404.38v6.8M75.97 409.31h6.8M79.37 405.91v6.8M93.88 399.22h6.8M97.28 395.82v6.8M69.8 412.78h6.8M73.2 409.38v6.8M81.01 404.68h6.8M84.41 401.28v6.8M87.86 399.84h6.8M91.26 396.44v6.8M87.06 401.28h6.8M90.46 397.88v6.8M63.78 418.01h6.8M67.18 414.61v6.8M75.82 409.7h6.8M79.22 406.3v6.8M61.86 419.77h6.8M65.26 416.37v6.8M92.1 404.4h6.8M95.5 401v6.8M76.38 409.15h6.8M79.78 405.75v6.8M66.9 415.66h6.8M70.3 412.26v6.8M88.43 397.52h6.8M91.83 394.12v6.8M64.34 417.54h6.8M67.74 414.14v6.8M97.15 395.76h6.8M100.55 392.36v6.8M82.4 408.81h6.8M85.8 405.41v6.8M71.94 411.78h6.8M75.34 408.38v6.8M102.19 389.05h6.8M105.59 385.65v6.8M94.45 395.65h6.8M97.85 392.25v6.8M70.36 412.5h6.8M73.76 409.1v6.8M79.39 404.47h6.8M82.79 401.07v6.8M76.98 410.09h6.8M80.38 406.69v6.8M91.44 403.24h6.8M94.84 399.84v6.8M67.35 415.16h6.8M70.75 411.76v6.8M82.02 406.46h6.8M85.42 403.06v6.8M88.07 403.16h6.8M91.47 399.76v6.8M61.33 420.24h6.8M64.73 416.84v6.8M62.87 418.91h6.8M66.27 415.51v6.8M73.37 411.96h6.8M76.77 408.56v6.8" stroke="#f00" stroke-width="0.8"/>
<path d="M46.5 431.6h6v6h-6zM51.4 426.95h6v6h-6zM61.2 417.84h6v6h-6zM71 408.11h6v6h-6zM80.81 399.23h6v6h-6zM90.61 391.13h6v6h-6zM100.41 383.49h6v6h-6zM110.21 375.68h6v6h-6zM120.02 368.15h6v6h-6zM129.82 360.88h6v6h-6zM139.62 353.88h6v6h-6zM149.42 347.14h6v6h-6zM159.22 340.67h6v6h-6zM169.03 334.46h6v6h-6zM178.83 328.48h6v6h-6zM188.63 322.75h6v6h-6zM198.43 317.25h6v6h-6zM208.23 311.98h6v6h-6zM218.04 306.75h6v6h-6zM227.84 301.74h6v6h-6zM237.64 296.95h6v6h-6zM247.44 292.37h6v6h-6zM257.24 288h6v6h-6zM267.05 283.85h6v6h-6zM276.85 279.9h6v6h-6zM286.65 276.16h6v6h-6zM296.45 272.61h6v6h-6zM306.25 269.25h6v6h-6zM316.06 266.08h6v6h-6zM325.86 263.11h6v6h-6zM335.66 260.33h6v6h-6zM345.46 257.74h6v6h-6zM355.26 255.33h6v6h-6zM365.06 253.1h6v6h-6zM374.87 251.05h6v6h-6zM384.67 249.18h6v6h-6zM394.47 247.47h6v6h-6zM404.27 245.94h6v6h-6zM414.08 244.57h6v6h-6zM423.88 243.35h6v6h-6zM433.68 242.27h6v6h-6zM443.48 241.32h6v6h-6zM453.28 240.51h6v6h-6zM463.09 239.83h6v6h-6zM472.89 239.26h6v6h-6zM482.69 238.81h6v6h-6zM492.49 238.46h6v6h-6zM502.29 238.2h6v6h-6zM512.1 238.03h6v6h-6zM521.9 237.94h6v6h-6zM531.7 237.9h6v6h-6zM536.6 237.9h6v6h-6z" fill="none" stroke="#00f" stroke-width="1.5"/>
<rect x="348.6" y="348" width="6" height="6" fill="none" stroke="#00f" stroke-width="1.5"/>
<text x="370.3" y="355.6">Equation (13)</text>
<path d="M335.6 371.6H367.6" stroke="#000" stroke-width="2.5"/>
<text x="370.3" y="376.2">Izzard (1950) (Eq. 2)</text>
<path d="M335.6 392.6H367.6" stroke="#000" stroke-width="2.8" stroke-dasharray="8.4 3.6"/>
<text x="370.3" y="396.8">HEC-22 (2009) (Eq. 4)</text>
<path d="M348.3 413.4H354.9M351.6 410.1V416.7" stroke="#f00" stroke-width="0.8"/>
<text x="370.3" y="417.8">Muhammad (2018) (Eq. 6)</text>
<text transform="translate(15.2 363.2) rotate(-90)" font-size="13.6">Predicted <tspan font-style="italic">E</tspan><tspan font-style="italic" font-size="9.2" dy="3">ci</tspan></text>
<text x="280.2" y="465.2" font-style="italic" font-size="14">L<tspan font-size="10" dy="2.6">ci</tspan><tspan dy="-2.6" dx="1.1">/L</tspan><tspan font-size="10" dy="2.6">T</tspan></text>
<text x="8.5" y="464.7">(b)</text>
</g></svg>
</body></html>
